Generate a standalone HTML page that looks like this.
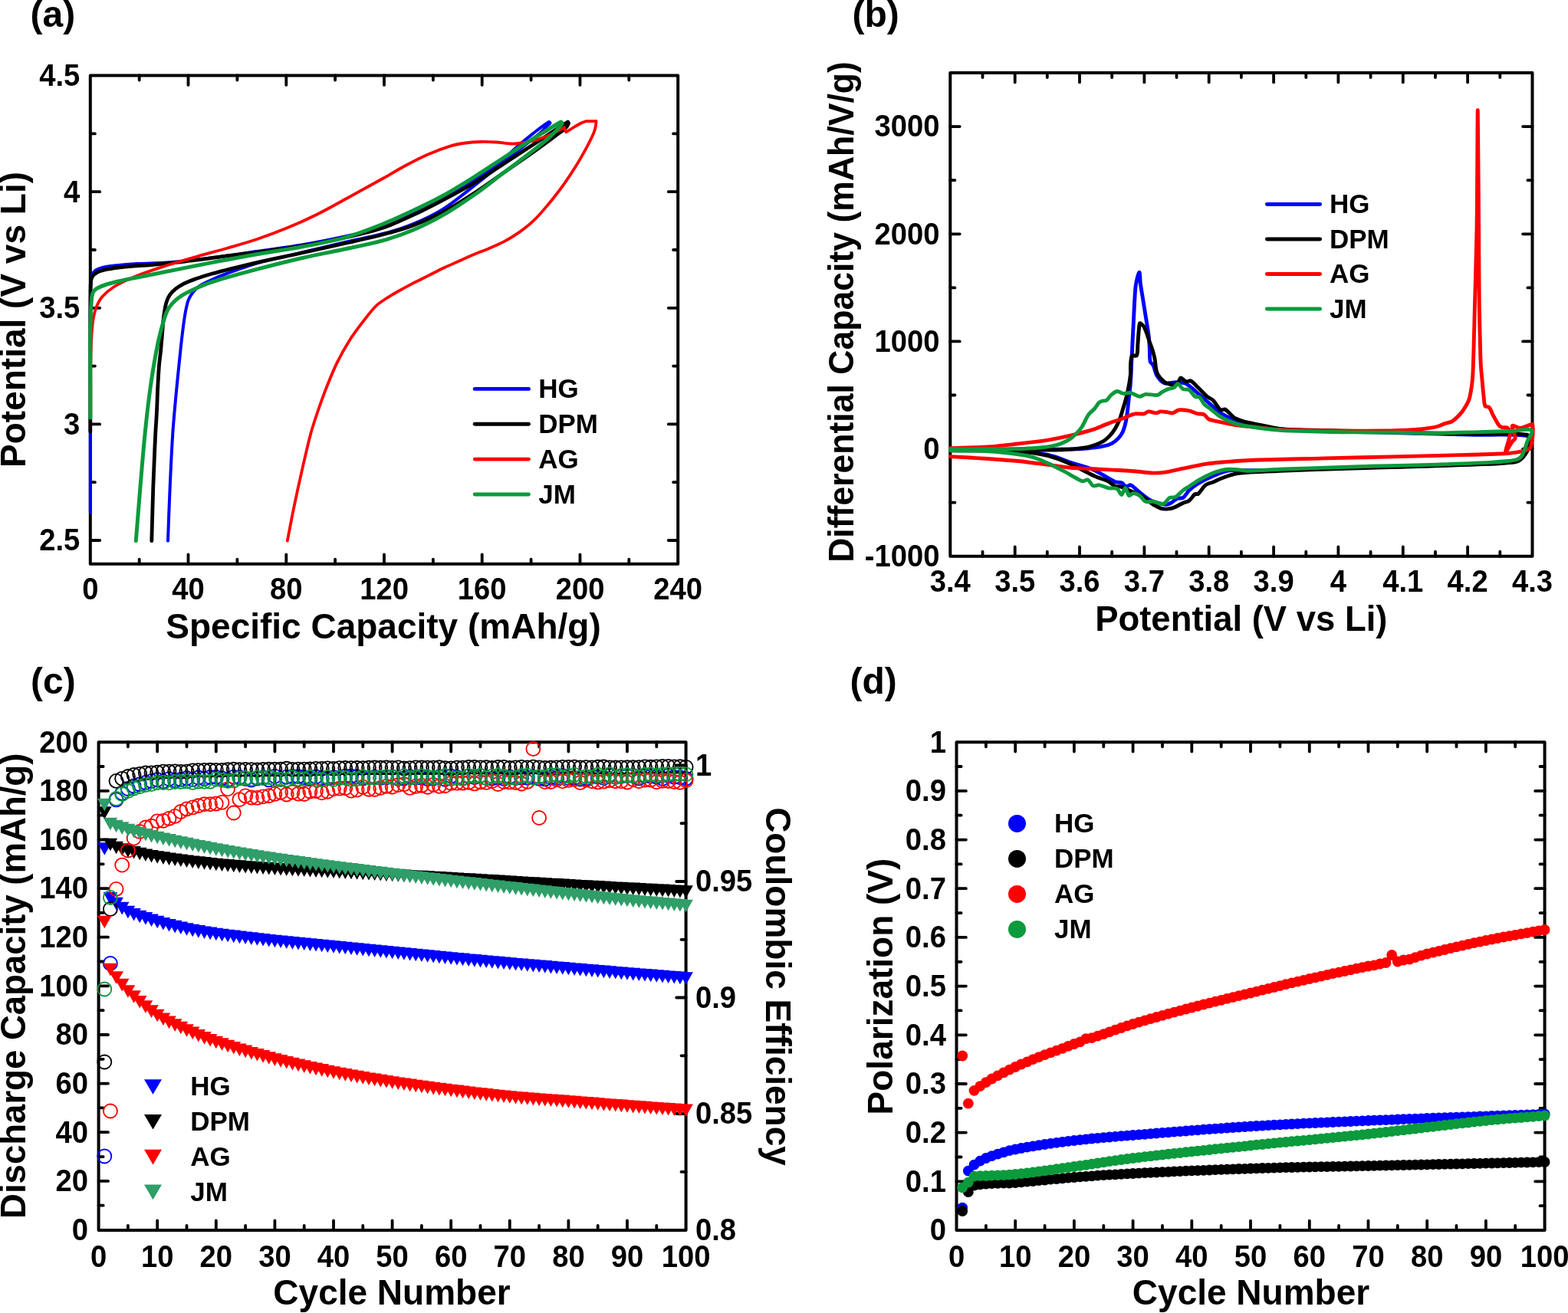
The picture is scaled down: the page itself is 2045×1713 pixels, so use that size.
<!DOCTYPE html>
<html lang="en">
<head>
<meta charset="utf-8">
<title>Electrochemical performance: HG, DPM, AG, JM</title>
<style>
html,body{margin:0;padding:0;background:#fff;}
body{width:2045px;height:1713px;overflow:hidden;}
svg{display:block;font-family:'Liberation Sans', sans-serif;font-weight:bold;fill:#000;}
</style>
</head>
<body>
<svg width="2045" height="1713" viewBox="0 0 2045 1713">
<rect width="2045" height="1713" fill="#fff"/>
<g id="panel-a">
<text x="39.5" y="34.7" font-size="48" text-anchor="start">(a)</text>
<rect x="117.8" y="98.5" width="766.4" height="637.2" fill="none" stroke="#000" stroke-width="4.0" stroke-linejoin="round"/>
<path d="M181.7 735.7v-6.1M181.7 98.5v6.1M245.5 735.7v-12.4M245.5 98.5v12.4M309.4 735.7v-6.1M309.4 98.5v6.1M373.3 735.7v-12.4M373.3 98.5v12.4M437.1 735.7v-6.1M437.1 98.5v6.1M501 735.7v-12.4M501 98.5v12.4M564.9 735.7v-6.1M564.9 98.5v6.1M628.7 735.7v-12.4M628.7 98.5v12.4M692.6 735.7v-6.1M692.6 98.5v6.1M756.5 735.7v-12.4M756.5 98.5v12.4M820.3 735.7v-6.1M820.3 98.5v6.1M117.8 705h12.4M884.2 705h-12.4M117.8 629.2h6.1M884.2 629.2h-6.1M117.8 553.4h12.4M884.2 553.4h-12.4M117.8 477.6h6.1M884.2 477.6h-6.1M117.8 401.8h12.4M884.2 401.8h-12.4M117.8 326h6.1M884.2 326h-6.1M117.8 250.2h12.4M884.2 250.2h-12.4M117.8 174.4h6.1M884.2 174.4h-6.1" fill="none" stroke="#000" stroke-width="3.8" stroke-linecap="round"/>
<path d="M117.8 668.4C117.8 645.6 117.8 618.5 117.8 600C117.8 566.7 117.8 533.3 117.8 500C117.8 476.3 117.8 446.7 117.8 420C117.8 412.9 117.8 396.7 118 385C118.1 381.3 118.3 373.6 118.8 368C119 365.5 119.4 361.1 120.5 358C121 356.6 122.5 354.3 124 353C125.4 351.8 127.8 350.9 129.3 350.4C132.1 349.4 135.3 348.5 138 348C141.6 347.3 146.9 346.7 148.9 346.5C158.6 345.5 169.7 344.5 178 344C191 343.3 204.1 343.5 217 342.6C230.2 341.7 243.4 340.2 256.5 338.7C269.5 337.2 282.6 335.6 295.6 333.8C308.7 332 324.3 329.5 334.7 328C354.3 325.1 374 322.8 393.4 319.5C413 316.2 432.6 312.3 452 308C466.6 304.8 484.4 301.2 500 296C512.4 291.9 526.3 284.9 539 279C552.2 272.8 565.6 266.3 578 259.5C591.4 252.2 605 244.2 617.4 236C630.8 227.1 643.8 217.4 656.5 207.5C661.3 203.7 669.4 195.7 676 190C682.3 184.5 688.9 179 695.6 173.8C702.2 168.7 709.3 163.1 716 159C716.1 158.9 717.7 160.2 717.5 160.5C716.5 162.3 713.6 164.3 712 166C709.8 168.3 706.7 171.7 705.4 172.8C699.1 178.2 691 184.3 685.8 188.5C676 196.3 664.9 205.3 656.5 212C643.5 222.4 630.6 233 617.4 243.2C604.5 253.1 591.9 264 578 272.6C566.4 279.8 552.4 286.5 539 292C526.7 297.1 512 301.6 500 304.8C484.2 309.1 466.4 312.2 452 315.5C432.4 320 412.9 324.8 393.4 329.5C373.8 334.2 354 338.1 334.7 343.5C323.9 346.5 308.5 352.3 295.6 357C291.1 358.6 282.4 362.1 276 365C271.9 366.8 266.4 369.3 262 372C259.7 373.4 256.4 376.1 254 378.5C252.1 380.5 250.3 383.1 248.7 385.6C247.6 387.4 246.3 389.9 245.5 392C244.5 394.6 243.8 397.8 243.3 400C242.4 404 241.5 408.8 241 412C240 418 239.1 425.1 238.5 430C237.4 438.7 236.2 449.1 235.5 456C234.1 469 232.8 482 231.5 495C230.4 506 229.2 518.6 228.2 530C227.1 542.2 225.7 558.1 225.2 566.7C223.8 589.5 222.7 612.6 221.7 635C220.6 658.5 219.9 682.1 219 705.6" fill="none" stroke="#0000ff" stroke-width="4.0" stroke-linecap="round" stroke-linejoin="round"/>
<path d="M117.8 563C117.8 542 117.8 518.5 117.8 500C117.8 473.3 117.8 446.7 117.8 420C117.8 414.5 117.9 400 118 390C118.1 382.9 117.8 373.9 118.6 366C118.7 365.1 119.8 361.7 121 360C122 358.5 123.9 357.3 125.4 356.3C127.1 355.2 129.3 354.1 131 353.5C133.6 352.6 137.4 351.7 139 351.4C145.5 350.2 154.3 348.9 158.7 348.5C171.7 347.2 184.8 346.6 197.8 345.5C210.9 344.3 226.6 342.8 237 341.6C256.6 339.3 281 335.7 295.6 333.8C328.2 329.5 360.9 326 393.4 321C408.2 318.7 432.6 313.9 452 309.5C466.6 306.2 484.4 302.2 500 297C512.3 292.9 526.4 286.3 539 280.4C552.2 274.3 565.3 267.5 578 260.8C591.2 253.9 604.8 246.8 617.4 239.3C630.7 231.3 643.5 222.4 656.5 213.9C669.5 205.4 682.6 197 695.6 188.5C699.9 185.7 709.4 179.4 715 175.7C723.5 170.1 732.4 163.6 740.6 159C740.7 159 741.6 160.7 741.5 161C740.7 163 738.7 166 737.6 167C733.8 170.6 727.6 174.8 725 176.7C715.3 183.9 704.2 192.1 695.6 198.2C682.6 207.4 669.5 216.5 656.5 225.6C643.4 234.8 630.4 244.3 617 253C604.6 261 591.4 269.5 578 276.5C565.8 282.9 552.3 289 539 294C526.6 298.7 511.9 302.7 500 305.8C484.1 310 466.4 313.7 452 317C432.5 321.4 412.9 325.7 393.4 330C373.8 334.3 354.1 338.1 334.7 342.6C315.1 347.2 295.4 351.9 276 357.3C269.3 359.2 256.3 363.3 246.7 367C243.5 368.2 237.3 371.3 233 374C230.7 375.5 227.5 378.1 225 380.5C223.8 381.7 222 384 221 385.6C219.6 387.9 218.4 390.5 217.5 393C216.5 395.7 215.7 399.4 215.4 401.3C214.4 406.8 213.6 412.7 213 418C212.3 424.1 212 430.9 211.5 436.5C210.9 444 210.2 451.5 209.5 459C209 463.7 207.9 471.8 207.6 475.6C206.7 486.4 206.2 497.2 205.6 508C205.2 515.8 205 526.5 204.6 534.3C204.1 545.1 203 559.7 202.7 566.7C201.6 589.5 200.6 612.6 199.8 635C199 658.5 198.5 682.1 197.8 705.6" fill="none" stroke="#000000" stroke-width="4.8" stroke-linecap="round" stroke-linejoin="round"/>
<path d="M117.8 540C117.8 526.7 117.7 513.3 117.8 500C117.8 491.4 117.9 479.4 118.2 470C118.5 458.8 118.9 447.7 119.6 436.5C119.9 431.7 120.4 423.4 121.5 417C122.3 412.2 123.5 406.3 125.4 401.3C127.3 396.5 130.1 391 133 387.6C137.5 382.4 144.3 376.9 149 374C158.1 368.4 169.3 363.5 178 360C190.7 354.9 203.9 350.7 217 346.5C230.1 342.3 243.3 338.6 256.5 334.8C269.4 331.1 282.6 327.7 295.6 324C308.7 320.2 322 316.6 334.7 312.3C347.9 307.8 361.2 302.9 374 297.6C387.2 292.2 400.4 286.2 413 280C426.2 273.5 440.4 265.3 452 259C468 250.2 484 241.4 500 232.5C507.5 228.3 519.4 221.1 529.3 215.8C538.8 210.7 548.7 205.5 558.7 201.2C568 197.2 578.1 193.4 588 190.4C593 188.9 601 187.4 607.6 186.5C613.9 185.6 620.6 185.2 627 185C633.6 184.8 640.1 185.1 646.7 185.5C653.1 185.9 659.6 187.2 666 187.5C668.3 187.6 673.8 187.3 676 187C682.6 186.1 689.3 185.3 695.6 183.6C702.2 181.9 708.6 179.3 715 176.7C718.7 175.2 723.7 172.6 728 170.5C730 169.5 733.1 167.8 735.7 166.5" fill="none" stroke="#ff0000" stroke-width="3.8" stroke-linecap="round" stroke-linejoin="round"/>
<path d="M735.7 166.5L738.2 172.3L750 165L758 160.5L764 158.2L777.5 158.2" fill="none" stroke="#ff0000" stroke-width="3.8" stroke-linecap="round" stroke-linejoin="round"/>
<path d="M777.5 158.2C777.3 160.5 777.2 163.2 776.8 165C776.1 168.3 774.7 172.8 773.8 174.8C770.9 181.4 767.1 188.6 764 194.3C759.7 202.2 755.1 210.3 750.4 217.8C745.4 225.8 739.9 234.2 734.7 241.3C728.4 250 721.9 258.5 715 266.7C709.1 273.7 702.6 281.6 695.6 288.2C690 293.6 682.8 299.1 676 303.9C670.1 308 663.2 312.1 656.5 315.6C650.4 318.8 643.6 321.6 637 324.4C630.6 327.1 623.8 329.5 617.4 332.2C610.8 335 604.3 338.1 597.8 341C591.3 343.9 584.6 346.7 578.2 349.8C571.6 352.9 565.2 356.4 558.7 359.6C552.1 362.9 545.3 366.1 539 369.4C532.1 373 525.3 376.7 518.5 380.5C514.1 383 508.4 386.3 503.5 389.5C499.2 392.3 493.3 396.2 490.5 399C484.1 405.5 478.2 413.4 473 420.2C466.7 428.4 460.4 436.8 455 445.4C449.3 454.4 444.1 464 439.5 473.4C434.6 483.4 430.3 494.2 426.3 504.2C421.9 515.3 417.9 526.7 414 538C411.1 546.6 406.9 559.4 405 566.7C400.7 582.9 397.1 599.3 393.4 615.6C390.1 629.9 386.7 645.6 383.6 660.6C380.5 675.5 377.7 690.6 374.8 705.6" fill="none" stroke="#ff0000" stroke-width="3.8" stroke-linecap="round" stroke-linejoin="round"/>
<path d="M117.8 545C117.8 530 117.8 512.9 117.8 500C117.8 480 117.7 460 117.8 440C117.8 433.3 118 420 118.3 410C118.4 405.5 118.8 398 119.3 392C119.4 390.2 119.7 386.4 120.5 383.7C120.9 382.4 121.9 380.3 123 379C124.2 377.7 126.4 376.3 127.4 375.8C131.1 373.9 136.6 371.7 139 371C148.7 368.2 158.6 366.1 168.5 364C178.2 361.9 189.4 359.9 197.8 358.2C210.9 355.6 223.9 353 237 350.4C250 347.8 265.6 344.6 276 342.6C295.5 338.9 315.1 335.2 334.7 331.8C354.2 328.4 374 325.7 393.4 322C413 318.2 432.8 314.7 452 309.3C467.1 305.1 484.2 298.3 500 292C512.1 287.2 526.3 280.5 539 274.5C552.2 268.3 565.7 261.9 578.2 255C591.5 247.7 604.6 239.5 617.4 231.5C630.6 223.2 643.5 214.5 656.5 206C669.5 197.5 682.5 188.9 695.6 180.6C699.8 178 708.5 172.9 715 169C720.2 165.9 726.4 161.4 731.8 159C732 158.9 733.1 160.8 733 161C731.1 164.4 727.7 167.9 725 170.9C721.9 174.3 717.5 178.4 715 180.6C708.7 186 700.1 192.9 695.6 196.3C682.7 206.2 669.5 215.8 656.5 225.6C643.5 235.4 630.8 245.7 617.4 255C604.9 263.7 591.7 272.7 578.2 280.4C565.9 287.4 552.4 294.3 539 300C526.7 305.2 512.1 310.2 500 313.6C484.2 318 466.5 321.4 452 324.5C432.5 328.7 412.7 332.3 393.4 336.7C373.7 341.2 354.1 346.2 334.7 351.4C315.1 356.6 295.4 361.9 276 368C272.6 369.1 262.8 373 256.5 375.8C249.9 378.8 243.1 381.8 237 385.6C233.4 387.8 228.6 391.7 225.2 395.4C222.2 398.7 218.6 404.1 217.4 407C214 415.1 211.8 424 209.5 432.6C207.2 441.3 204.8 452.7 203.7 459C200.7 475.3 197.8 493 195.8 508C193.1 527.5 190.8 548.6 189 566.7C186.7 589.4 184.9 612.6 183 635C181 658.5 179.2 682.1 177.3 705.6" fill="none" stroke="#0b9a3c" stroke-width="5.0" stroke-linecap="round" stroke-linejoin="round"/>
<text font-size="39" text-anchor="middle" transform="translate(117.8 782.4) scale(0.98 1.035)">0</text>
<text font-size="39" text-anchor="middle" transform="translate(245.5 782.4) scale(0.98 1.035)">40</text>
<text font-size="39" text-anchor="middle" transform="translate(373.3 782.4) scale(0.98 1.035)">80</text>
<text font-size="39" text-anchor="middle" transform="translate(501 782.4) scale(0.98 1.035)">120</text>
<text font-size="39" text-anchor="middle" transform="translate(628.7 782.4) scale(0.98 1.035)">160</text>
<text font-size="39" text-anchor="middle" transform="translate(756.5 782.4) scale(0.98 1.035)">200</text>
<text font-size="39" text-anchor="middle" transform="translate(884.2 782.4) scale(0.98 1.035)">240</text>
<text font-size="39" text-anchor="end" transform="translate(104.3 111.9) scale(0.98 1.035)">4.5</text>
<text font-size="39" text-anchor="end" transform="translate(104.3 263.5) scale(0.98 1.035)">4</text>
<text font-size="39" text-anchor="end" transform="translate(104.3 415.1) scale(0.98 1.035)">3.5</text>
<text font-size="39" text-anchor="end" transform="translate(104.3 566.7) scale(0.98 1.035)">3</text>
<text font-size="39" text-anchor="end" transform="translate(104.3 718.3) scale(0.98 1.035)">2.5</text>
<text x="500" y="832.9" font-size="46" text-anchor="middle">Specific Capacity (mAh/g)</text>
<text x="33.4" y="417" font-size="46" text-anchor="middle" transform="rotate(-90 33.4 417)">Potential (V vs Li)</text>
<path d="M619.2 507.4H689.5" stroke="#0000ff" stroke-width="4.9" stroke-linecap="round" fill="none"/>
<text x="702.2" y="519.2" font-size="35" text-anchor="start">HG</text>
<path d="M619.2 553.3H689.5" stroke="#000000" stroke-width="4.9" stroke-linecap="round" fill="none"/>
<text x="702.2" y="565.1" font-size="35" text-anchor="start">DPM</text>
<path d="M619.2 599.1H689.5" stroke="#ff0000" stroke-width="4.9" stroke-linecap="round" fill="none"/>
<text x="702.2" y="610.9" font-size="35" text-anchor="start">AG</text>
<path d="M619.2 645H689.5" stroke="#0b9a3c" stroke-width="4.9" stroke-linecap="round" fill="none"/>
<text x="702.2" y="656.8" font-size="35" text-anchor="start">JM</text>
</g>
<g id="panel-b">
<text x="1111.5" y="34.7" font-size="48" text-anchor="start">(b)</text>
<rect x="1239.3" y="95" width="759.2" height="630.8" fill="none" stroke="#000" stroke-width="4.0" stroke-linejoin="round"/>
<path d="M1281.5 725.8v-6.1M1281.5 95v6.1M1323.7 725.8v-12.4M1323.7 95v12.4M1365.8 725.8v-6.1M1365.8 95v6.1M1408 725.8v-12.4M1408 95v12.4M1450.2 725.8v-6.1M1450.2 95v6.1M1492.4 725.8v-12.4M1492.4 95v12.4M1534.5 725.8v-6.1M1534.5 95v6.1M1576.7 725.8v-12.4M1576.7 95v12.4M1618.9 725.8v-6.1M1618.9 95v6.1M1661.1 725.8v-12.4M1661.1 95v12.4M1703.3 725.8v-6.1M1703.3 95v6.1M1745.4 725.8v-12.4M1745.4 95v12.4M1787.6 725.8v-6.1M1787.6 95v6.1M1829.8 725.8v-12.4M1829.8 95v12.4M1872 725.8v-6.1M1872 95v6.1M1914.1 725.8v-12.4M1914.1 95v12.4M1956.3 725.8v-6.1M1956.3 95v6.1M1239.3 655.7h6.1M1998.5 655.7h-6.1M1239.3 585.6h12.4M1998.5 585.6h-12.4M1239.3 515.5h6.1M1998.5 515.5h-6.1M1239.3 445.4h12.4M1998.5 445.4h-12.4M1239.3 375.4h6.1M1998.5 375.4h-6.1M1239.3 305.3h12.4M1998.5 305.3h-12.4M1239.3 235.2h6.1M1998.5 235.2h-6.1M1239.3 165.1h12.4M1998.5 165.1h-12.4" fill="none" stroke="#000" stroke-width="3.8" stroke-linecap="round"/>
<path d="M1239.4 586.8C1294.9 586.5 1350.5 586.9 1406 585.8C1409 585.8 1425.7 584.6 1435.4 582.9C1439.2 582.2 1446.5 580.7 1451 578C1455.6 575.2 1460.1 570.7 1462.8 566.3C1465.9 561.1 1467.7 553.1 1468.6 548.7C1470.7 538.4 1471.3 527.8 1472.5 517.4C1473 513.2 1474.2 504.2 1474.4 500C1475.2 489.7 1475.4 479.3 1475.9 469C1476.2 463.8 1476.7 454.4 1476.9 449.1C1477.4 439.2 1477.9 429.3 1478.4 419.3C1478.9 409.4 1479.3 399.5 1479.9 389.6C1480.2 385.1 1480.4 377.6 1481.4 371.7C1482.3 366.3 1484.8 355.7 1485.9 355.3C1486.8 355 1486.9 366.2 1487.3 369.7C1488.5 378 1490 386.2 1491.3 394.5C1492.6 402.8 1494 411.1 1495.3 419.3C1496.2 425.2 1497.5 432.5 1498.3 439.2C1498.7 443.4 1499 449.6 1499.3 454.1C1499.6 460 1499 466.3 1500.2 471.9C1500.5 473 1503.6 475.6 1504.2 476.9C1506 480.6 1506.3 485.1 1508.2 488.8C1509.5 491.4 1511.9 494.4 1514.1 496.7C1515.2 497.8 1517.3 499.4 1519.1 500C1520.3 500.4 1522.6 499.8 1523.4 499.8C1527.3 499.5 1531.2 498.6 1535.1 498.8C1539.1 498.9 1544.3 499.3 1546.9 500.7C1552.6 503.8 1557.5 509.2 1562.5 513.4C1567.8 517.9 1572.9 522.6 1578.2 527.1C1582.4 530.8 1587.3 535.9 1591.9 538.9C1597.9 542.8 1604.7 546.1 1611.4 548.7C1617 550.8 1625.9 552.7 1630 553.5C1643 556.1 1658.5 559.1 1669.1 560C1688.6 561.7 1713.1 561.5 1727.8 562C1760.4 563 1793 564 1825.6 564.9C1858.2 565.8 1890.8 566.5 1923.4 567.2C1942.2 567.7 1970.4 566 1991.9 568.6C1992.4 568.7 1995.6 574.2 1995.4 576C1994.9 581.2 1992.4 587.1 1989.5 591.7C1987.4 595.1 1983.6 599.1 1979.7 601.1C1975.9 603 1969.7 603.1 1966.4 603.4C1958.6 604.3 1946.6 604.8 1943 605C1916.9 606.1 1890.8 606.9 1864.7 607.7C1838.6 608.5 1812.6 609 1786.5 609.7C1760.4 610.4 1734.3 611.2 1708.2 612C1699.5 612.3 1682.2 612.9 1669.1 613.2C1656.1 613.5 1643 613.4 1630 613.6C1622.1 613.7 1610.9 612.7 1601.6 614.2C1595.9 615.1 1588.3 618.4 1582.1 621C1575.4 623.9 1568.8 627.1 1562.5 630.8C1559.1 632.8 1554.3 636.3 1550.8 639.6C1548 642.3 1546.2 647.2 1543 649.4C1541.3 650.5 1537.3 649.4 1535.1 650.4C1532.2 651.6 1530.1 654.6 1527.3 656.2C1525.9 657 1523.3 658.1 1521.4 658.2C1518.9 658.4 1515.4 657.7 1513.6 657.2C1509 655.9 1503.5 654.4 1499.9 652.3C1494.3 649.1 1489.4 644.6 1484.3 640.6C1481.7 638.6 1478 634.1 1474.5 632.8C1473.2 632.3 1470.4 635.2 1468.6 634.7C1466.5 634.2 1465 630.8 1462.8 629.8C1460.4 628.8 1455.9 629.3 1454.9 628.9C1444.9 624.3 1435.8 617.2 1425.6 612.8C1416.6 608.9 1406 606.7 1396.3 603.4C1390.9 601.6 1383.3 598.2 1376.7 596.2C1370.4 594.3 1362.5 592.5 1357.1 591.7C1347.4 590.1 1332.7 588.5 1327.8 588.4C1298.4 587.3 1268.9 587.7 1239.4 587.4" fill="none" stroke="#0000ff" stroke-width="4.9" stroke-linecap="round" stroke-linejoin="round"/>
<path d="M1239.4 586.8C1288.4 586.8 1337.5 587.6 1386.5 586.8C1389.8 586.7 1406.1 585.4 1415.8 583.9C1418.9 583.4 1425.1 581.6 1429.5 580C1433.4 578.4 1437.8 576.6 1441.2 574.1C1444.9 571.4 1448.4 567.7 1451 564.3C1454.2 560.1 1456.9 555 1458.9 550.6C1461.3 545 1463.1 538.4 1464.7 533C1466.9 525.9 1469.1 518.5 1470.6 511.5C1472.3 503.8 1473.6 495.9 1474.5 488C1474.7 486.3 1474.3 481.2 1474.4 478.9C1474.8 473.9 1474.5 467.5 1476.4 464C1477 463 1481.9 465 1482.4 464C1484.2 460.4 1483.5 453.4 1483.9 449.1C1484.4 442.5 1484.8 435.9 1485.4 429.3C1485.5 427.9 1485.8 424 1486.4 421.8C1486.4 421.7 1487.3 421.8 1487.3 421.8C1488.7 422.8 1490.7 424.2 1491.3 425.3C1493 428 1494.3 431.6 1495.3 434.2C1496.8 438.1 1497.9 442.2 1499.3 446.1C1500.5 449.6 1502.1 453.4 1503.2 457C1504.4 461 1505.5 465.3 1506.2 469C1507.1 473.9 1506.9 479.1 1508.2 483.8C1508.7 486 1510.5 489.5 1512.2 491.8C1514.1 494.4 1516.6 496.7 1519.1 498.7C1519.9 499.4 1522.2 500.5 1523.4 500.7C1525.9 501.4 1528.8 502.2 1531.2 501.7C1533.4 501.2 1535.5 499.4 1537.1 497.8C1538.3 496.6 1538.7 492.9 1540 492.9C1542 492.9 1544.4 497 1546.9 497.8C1548.4 498.3 1551.6 496.3 1552.7 496.8C1556.3 498.6 1559.7 502.9 1562.5 505.6C1566.5 509.4 1570.1 513.8 1574.3 517.4C1575.9 518.8 1580.5 520.7 1582.1 522.2C1585.8 526 1588.1 532.1 1591.9 535C1592.7 535.6 1596.8 533.5 1597.7 534C1602 536.4 1605.1 541.8 1609.5 544.7C1612.6 546.8 1617.2 548.3 1621.2 549.6C1623.6 550.4 1628.9 551.4 1630 551.6C1643 554.2 1658.4 558.3 1669.1 559.4C1688.5 561.4 1713.1 560.9 1727.8 561.4C1760.4 562.4 1793 563.5 1825.6 564.3C1858.2 565.1 1890.8 565.7 1923.4 566.3C1942.2 566.6 1970.7 564.4 1991.9 567.2C1992.6 567.3 1996 573.7 1995.8 576C1995.4 581.2 1992.8 587 1989.9 591.7C1987.7 595.2 1984 599.5 1980.1 601.5C1976.2 603.5 1969.8 603.5 1966.4 603.8C1958.6 604.6 1946.6 605.2 1943 605.4C1916.9 606.5 1890.8 607.3 1864.7 608.1C1838.6 608.9 1812.6 609.5 1786.5 610.3C1760.4 611.1 1734.3 611.9 1708.2 612.8C1699.5 613.1 1682.2 613.8 1669.1 614.4C1656.1 614.9 1643 615.3 1630 616.1C1626 616.4 1617.5 616.9 1611.4 618.1C1606.4 619.1 1600.9 621.1 1595.8 623C1591.3 624.6 1586.7 626.9 1582.1 628.9C1579.4 630 1574.5 631 1572.3 632.8C1568.4 635.9 1566.2 641.4 1562.5 644.5C1562.1 644.8 1559.1 644.1 1558.6 644.5C1555.7 646.7 1553.8 651 1550.8 653.3C1548.9 654.7 1544.9 655.3 1543 656.2C1539 658 1535.3 660.6 1531.2 662.1C1528.5 663.1 1524.7 663.9 1521.4 664.1C1519.1 664.2 1515.7 663.8 1513.6 663.1C1510.2 661.9 1506.7 660 1503.8 658.2C1500.4 655.9 1497.5 652.8 1494.1 650.4C1491.1 648.3 1487.7 646.2 1484.3 644.5C1481.3 643 1477.2 641.7 1474.5 640.6C1469.9 638.7 1465.5 636.1 1460.8 634.7C1459.7 634.4 1456.1 635.2 1454.9 634.7C1451.4 633.2 1448.1 629.4 1445.2 627.9C1440.2 625.4 1434.6 624.2 1429.5 622C1425 620.1 1419.6 617 1415.8 615.2C1409.3 611.9 1402.9 608.4 1396.3 605.4C1390 602.6 1383.4 599.7 1376.7 597.6C1370.4 595.5 1362.5 593.6 1357.1 592.7C1347.4 590.9 1332.7 589 1327.8 588.8C1298.4 587.5 1268.9 588.1 1239.4 587.8" fill="none" stroke="#000000" stroke-width="4.9" stroke-linecap="round" stroke-linejoin="round"/>
<path d="M1239.4 584.8C1255.8 584.2 1272.3 584 1288.7 582.9C1300.3 582.1 1314.8 580.4 1327.8 579C1340.9 577.5 1353.9 576.1 1366.9 574.1C1375.4 572.7 1386.6 570.5 1396.3 568.2C1406.1 565.9 1416 563.5 1425.6 560.4C1431.1 558.6 1438.6 555 1445.2 552.6C1451.6 550.2 1458.2 548.1 1464.7 545.7C1469.4 544 1475 541 1480.4 539.9C1483.5 539.2 1488.3 540.5 1492.1 539.9C1493.6 539.6 1496.2 537 1498 536.9C1501.1 536.7 1504.5 538.9 1507.8 538.9C1509.3 538.9 1512 537 1513.6 536.9C1516.8 536.7 1520.1 537.5 1523.4 537.9C1524.9 538.1 1527.7 539.2 1529.3 538.9C1532 538.3 1534.8 535.3 1537.1 535C1541.5 534.4 1546.3 535.1 1550.8 535.9C1554.6 536.7 1558.5 538.9 1562.5 539.9C1564.5 540.3 1568.1 539.7 1570.3 540.8C1572.7 542 1574.5 545.9 1576.2 546.7C1580.9 548.9 1587.2 549.6 1591.9 550.6C1598.3 552.1 1604.9 553.5 1611.4 554.5C1617.4 555.4 1626 556.1 1630 556.5C1643 557.8 1658.6 559.8 1669.1 560.4C1688.6 561.4 1711 561.6 1727.8 561.8C1753.9 562.1 1780 562.3 1806 562C1814.7 561.9 1832.1 561.2 1845.2 560.4C1849.5 560.1 1858.2 559.3 1864.7 558.4C1866.9 558.1 1871.4 557.4 1874.5 556.5C1877.8 555.5 1881 553.7 1884.3 552.6C1887.4 551.5 1891.5 551.2 1894.1 549.6C1897.7 547.4 1900.8 544 1903.8 540.8C1905.7 538.8 1908.2 535.5 1909.7 533C1911.9 529.6 1914.2 526 1915.6 522.2C1917.1 518.2 1917.8 513.4 1918.5 509.5C1919.4 504.4 1920.1 498.6 1920.5 493.9C1921 487.4 1921.3 479 1921.4 474.3C1921.9 462.6 1922.1 450.2 1922.4 439.1C1922.8 426.1 1923.2 407.3 1923.4 400C1924.3 366.7 1925.6 326 1926 300C1926.8 247.9 1926.9 143.7 1927.3 143.7C1927.7 143.7 1928.2 247.9 1928.6 300C1928.8 326 1928.9 366.7 1929.3 400C1929.4 407.3 1929.9 426.1 1930.2 439.1C1930.5 450.2 1930.6 462.6 1931.2 474.3C1931.5 480.6 1932.5 490 1933.2 497.8C1933.7 503.7 1934.3 510.9 1935.1 517.4C1935.5 520.7 1935.4 526.8 1937.1 530.1C1937.5 530.9 1941.3 530.3 1942 531.1C1944.2 533.5 1945.4 538.2 1946.9 540.8C1949.4 545.5 1951.7 550.3 1954.7 554.5C1955.1 555.2 1957.4 557.1 1958.6 557.5C1961 558.3 1964.7 557 1966.4 558.4C1968.3 559.9 1969.5 564.8 1969.4 566.3C1968.6 574 1962.9 587.8 1963.5 589.7C1963.9 591 1969.1 580.4 1972.3 576C1972.8 575.3 1976.2 573 1976.2 572.1C1976.2 567 1971.1 558.4 1972.3 555.5C1973 553.8 1978.8 558.4 1982.1 558.4C1985.3 558.4 1988.6 556.5 1991.9 555.5C1993.7 555 1998.6 552.7 1998.7 553.5C1999.9 561.2 1998.5 574.7 1996.2 583.9C1995.9 584.7 1991.6 586.8 1989.9 587.4C1986.1 588.7 1981.6 589.6 1978.2 590.1C1973 590.9 1964.7 591.6 1962.5 591.7C1943 592.6 1920.6 593.2 1903.8 593.6C1877.8 594.4 1848.8 595 1825.6 595.6C1793 596.4 1760.4 597.1 1727.8 597.9C1695.2 598.8 1662.6 599.3 1630 600.5C1625.7 600.6 1610.9 601.7 1601.6 602.4C1591.8 603.3 1581.9 603.9 1572.3 605.4C1562.4 606.9 1552.7 609.3 1543 611.2C1536 612.7 1527.4 615 1519.5 616.1C1515.4 616.7 1508.5 617.2 1503.8 617.1C1497.3 616.9 1489.5 615.6 1484.3 615.2C1474.5 614.4 1464.7 613.8 1454.9 613.2C1445.2 612.6 1435.4 612.3 1425.6 611.8C1415.8 611.3 1406 611.2 1396.3 610.3C1386.4 609.4 1375.3 607.4 1366.9 606.4C1353.9 604.7 1340.9 602.8 1327.8 601.5C1314.8 600.2 1300.2 599.3 1288.7 598.5C1272.3 597.4 1255.8 596.6 1239.4 595.6" fill="none" stroke="#ff0000" stroke-width="4.9" stroke-linecap="round" stroke-linejoin="round"/>
<path d="M1239.4 585.8C1262.3 585.8 1285.3 586 1308.2 585.8C1317.7 585.7 1334.4 585.8 1347.4 584.8C1355.8 584.2 1367.2 583.4 1376.7 580.9C1382.5 579.4 1390.4 576.1 1396.3 572.1C1401.3 568.7 1406.2 563.5 1410 558.4C1413.9 553.1 1415.9 546.3 1419.7 540.8C1421.2 538.7 1425.1 535.8 1427.6 533C1429.6 530.7 1431.2 527.4 1433.4 525.2C1434.1 524.5 1436.2 523.6 1437.3 523.2C1439.2 522.7 1441.9 523.1 1443.2 522.2C1445.6 520.7 1446.8 517.3 1449.1 515.4C1451.4 513.4 1454.2 510.9 1456.9 510.5C1459.4 510.2 1462.2 513.2 1464.7 513.4C1467.9 513.8 1471.7 512 1474.5 512.5C1478.5 513.2 1482.3 517 1486.2 517.4C1488.4 517.6 1492.1 514.6 1494.1 514.4C1499.2 514 1504.8 516.1 1509.7 515.4C1511.2 515.2 1513.8 512.5 1515.6 511.5C1518.1 510 1520.7 508.6 1523.4 507.6C1525.8 506.7 1528.9 506.9 1531.2 505.6C1533.1 504.6 1534.5 500.5 1536.1 500.7C1538.4 501.1 1540.3 506.1 1543 507.6C1545 508.7 1549 507.4 1550.8 508.6C1553.9 510.5 1555.6 515.2 1558.6 517.4C1559.7 518.1 1563.4 517.4 1564.5 518.3C1567 520.4 1568 524.6 1570.3 527.1C1572.5 529.4 1576.3 531.6 1578.2 533C1582.8 536.6 1587.4 541.1 1591.9 543.8C1598 547.4 1604.7 550.3 1611.4 552.6C1617.1 554.4 1625.9 555.9 1630 556.5C1643 558.5 1656 560.3 1669.1 561.4C1682.1 562.4 1697.8 562.5 1708.2 562.7C1727.8 563.2 1747.4 563.7 1766.9 563.9C1786.5 564.2 1806 564 1825.6 564.3C1836 564.4 1851.7 565.3 1864.7 565.3C1877.8 565.3 1890.8 564.6 1903.8 564.3C1916.9 564 1929.9 563.7 1943 563.3C1951.3 563.1 1962.5 562.7 1972.3 562.3C1980.2 562.1 1993.7 558.6 1997.7 561.4C2000.2 563.1 1993.7 571.1 1991.9 576C1990.6 579.4 1989.5 584 1987.9 587.8C1987 590 1985.8 593.4 1984 595.6C1982.7 597.2 1979.8 599 1978.2 599.5C1974.5 600.7 1969.1 601.2 1966.4 601.5C1958.6 602.3 1946.6 603.2 1943 603.4C1916.9 604.7 1890.8 605.5 1864.7 606.4C1838.6 607.2 1812.6 607.6 1786.5 608.3C1760.4 609.1 1734.3 610 1708.2 610.9C1699.5 611.1 1682.2 611.7 1669.1 612.2C1656.1 612.8 1643 614.2 1630 614.2C1622 614.2 1611 611.7 1601.6 612.2C1596.1 612.6 1588.1 614.9 1582.1 617.1C1575.3 619.7 1568.9 623.3 1562.5 626.9C1559.3 628.7 1554.7 632.2 1550.8 634.7C1548.7 636 1545 638.1 1543 639.6C1539.5 642.3 1536.8 646.4 1533.2 648.4C1531.5 649.4 1527.3 648.3 1525.4 649.4C1522.3 651.1 1520.7 656.5 1517.5 657.2C1513.5 658.1 1508.4 654.9 1503.8 654.3C1501.2 653.9 1496.8 655.5 1494.1 654.3C1490.9 652.9 1489.2 648.5 1486.2 646.5C1484.3 645.1 1481 643.5 1478.4 643.5C1476.5 643.5 1473.9 647.3 1472.5 646.5C1470.3 645 1469.3 636.8 1467.7 636.7C1466.1 636.5 1464.6 645.3 1462.8 645.5C1461 645.6 1459.5 639 1456.9 637.7C1453.7 636 1448.9 637.5 1445.2 636.7C1441.2 635.8 1437.4 633.4 1433.4 632.8C1431.4 632.5 1427.7 634.7 1425.6 633.7C1422.8 632.4 1421.5 627.1 1418.8 625.9C1417 625.2 1413.8 628.2 1411.9 627.9C1408.6 627.3 1404.6 624.3 1402.1 623C1396.9 620.1 1391.3 616.7 1386.5 614.2C1380 610.8 1373.6 607.4 1366.9 604.4C1360.6 601.6 1354.1 598.6 1347.4 596.6C1341.2 594.7 1332.2 593.3 1327.8 592.7C1314.8 590.9 1300.3 589.4 1288.7 588.8C1272.3 587.8 1255.8 588.1 1239.4 587.8" fill="none" stroke="#0b9a3c" stroke-width="4.9" stroke-linecap="round" stroke-linejoin="round"/>
<text font-size="39" text-anchor="middle" transform="translate(1239.3 771.6) scale(0.98 1.035)">3.4</text>
<text font-size="39" text-anchor="middle" transform="translate(1323.7 771.6) scale(0.98 1.035)">3.5</text>
<text font-size="39" text-anchor="middle" transform="translate(1408 771.6) scale(0.98 1.035)">3.6</text>
<text font-size="39" text-anchor="middle" transform="translate(1492.4 771.6) scale(0.98 1.035)">3.7</text>
<text font-size="39" text-anchor="middle" transform="translate(1576.7 771.6) scale(0.98 1.035)">3.8</text>
<text font-size="39" text-anchor="middle" transform="translate(1661.1 771.6) scale(0.98 1.035)">3.9</text>
<text font-size="39" text-anchor="middle" transform="translate(1745.4 771.6) scale(0.98 1.035)">4</text>
<text font-size="39" text-anchor="middle" transform="translate(1829.8 771.6) scale(0.98 1.035)">4.1</text>
<text font-size="39" text-anchor="middle" transform="translate(1914.1 771.6) scale(0.98 1.035)">4.2</text>
<text font-size="39" text-anchor="middle" transform="translate(1998.5 771.6) scale(0.98 1.035)">4.3</text>
<text font-size="39" text-anchor="end" transform="translate(1225.5 739.1) scale(0.98 1.035)">-1000</text>
<text font-size="39" text-anchor="end" transform="translate(1225.5 598.9) scale(0.98 1.035)">0</text>
<text font-size="39" text-anchor="end" transform="translate(1225.5 458.7) scale(0.98 1.035)">1000</text>
<text font-size="39" text-anchor="end" transform="translate(1225.5 318.6) scale(0.98 1.035)">2000</text>
<text font-size="39" text-anchor="end" transform="translate(1225.5 178.4) scale(0.98 1.035)">3000</text>
<text font-size="46" text-anchor="middle" transform="translate(1618.8 822.6) scale(0.988 1)">Potential (V vs Li)</text>
<text font-size="46" text-anchor="middle" transform="translate(1113.3 407) rotate(-90) scale(0.969 1)">Differential Capacity (mAh/V/g)</text>
<path d="M1652.4 266.5H1721.6" stroke="#0000ff" stroke-width="4.9" stroke-linecap="round" fill="none"/>
<text x="1734" y="278.3" font-size="35" text-anchor="start">HG</text>
<path d="M1652.4 312H1721.6" stroke="#000000" stroke-width="4.9" stroke-linecap="round" fill="none"/>
<text x="1734" y="323.8" font-size="35" text-anchor="start">DPM</text>
<path d="M1652.4 357.5H1721.6" stroke="#ff0000" stroke-width="4.9" stroke-linecap="round" fill="none"/>
<text x="1734" y="369.3" font-size="35" text-anchor="start">AG</text>
<path d="M1652.4 403H1721.6" stroke="#0b9a3c" stroke-width="4.9" stroke-linecap="round" fill="none"/>
<text x="1734" y="414.8" font-size="35" text-anchor="start">JM</text>
</g>
<g id="panel-c">
<text x="40" y="904.7" font-size="48" text-anchor="start">(c)</text>
<rect x="128.6" y="968.2" width="766" height="636.7" fill="none" stroke="#000" stroke-width="4.0" stroke-linejoin="round"/>
<path d="M166.9 1604.9v-6.1M166.9 968.2v6.1M205.2 1604.9v-12.4M205.2 968.2v12.4M243.5 1604.9v-6.1M243.5 968.2v6.1M281.8 1604.9v-12.4M281.8 968.2v12.4M320.1 1604.9v-6.1M320.1 968.2v6.1M358.4 1604.9v-12.4M358.4 968.2v12.4M396.7 1604.9v-6.1M396.7 968.2v6.1M435 1604.9v-12.4M435 968.2v12.4M473.3 1604.9v-6.1M473.3 968.2v6.1M511.6 1604.9v-12.4M511.6 968.2v12.4M549.9 1604.9v-6.1M549.9 968.2v6.1M588.2 1604.9v-12.4M588.2 968.2v12.4M626.5 1604.9v-6.1M626.5 968.2v6.1M664.8 1604.9v-12.4M664.8 968.2v12.4M703.1 1604.9v-6.1M703.1 968.2v6.1M741.4 1604.9v-12.4M741.4 968.2v12.4M779.7 1604.9v-6.1M779.7 968.2v6.1M818 1604.9v-12.4M818 968.2v12.4M856.3 1604.9v-6.1M856.3 968.2v6.1M128.6 1572.7h6.1M128.6 1540.9h12.4M128.6 1509.1h6.1M128.6 1477.2h12.4M128.6 1445.4h6.1M128.6 1413.6h12.4M128.6 1381.8h6.1M128.6 1350h12.4M128.6 1318.2h6.1M128.6 1286.3h12.4M128.6 1254.5h6.1M128.6 1222.7h12.4M128.6 1190.9h6.1M128.6 1159.1h12.4M128.6 1127.3h6.1M128.6 1095.5h12.4M128.6 1063.6h6.1M128.6 1031.8h12.4M128.6 1000h6.1M894.6 1528.8h-6.1M894.6 1453h-12.4M894.6 1377.3h-6.1M894.6 1301.5h-12.4M894.6 1225.8h-6.1M894.6 1150h-12.4M894.6 1074.2h-6.1M894.6 998.5h-12.4" fill="none" stroke="#000" stroke-width="3.8" stroke-linecap="round"/>
<g>
<path d="M127 1099.2h18.6l-9.3 16.6zM134.6 1164h18.6l-9.3 16.6zM142.3 1170.7h18.6l-9.3 16.6zM149.9 1176.8h18.6l-9.3 16.6zM157.6 1181.7h18.6l-9.3 16.6zM165.3 1184.9h18.6l-9.3 16.6zM172.9 1187.7h18.6l-9.3 16.6zM180.6 1190.1h18.6l-9.3 16.6zM188.2 1192.5h18.6l-9.3 16.6zM195.9 1194.7h18.6l-9.3 16.6zM203.6 1196.9h18.6l-9.3 16.6zM211.2 1198.9h18.6l-9.3 16.6zM218.9 1200.8h18.6l-9.3 16.6zM226.5 1202.5h18.6l-9.3 16.6zM234.2 1204.2h18.6l-9.3 16.6zM241.9 1205.7h18.6l-9.3 16.6zM249.5 1207.1h18.6l-9.3 16.6zM257.2 1208.4h18.6l-9.3 16.6zM264.8 1209.6h18.6l-9.3 16.6zM272.5 1210.7h18.6l-9.3 16.6zM280.2 1211.7h18.6l-9.3 16.6zM287.8 1212.7h18.6l-9.3 16.6zM295.5 1213.6h18.6l-9.3 16.6zM303.1 1214.6h18.6l-9.3 16.6zM310.8 1215.5h18.6l-9.3 16.6zM318.5 1216.3h18.6l-9.3 16.6zM326.1 1217.2h18.6l-9.3 16.6zM333.8 1218h18.6l-9.3 16.6zM341.4 1218.9h18.6l-9.3 16.6zM349.1 1219.7h18.6l-9.3 16.6zM356.8 1220.5h18.6l-9.3 16.6zM364.4 1221.3h18.6l-9.3 16.6zM372.1 1222.1h18.6l-9.3 16.6zM379.7 1222.8h18.6l-9.3 16.6zM387.4 1223.5h18.6l-9.3 16.6zM395.1 1224.3h18.6l-9.3 16.6zM402.7 1225h18.6l-9.3 16.6zM410.4 1225.7h18.6l-9.3 16.6zM418 1226.5h18.6l-9.3 16.6zM425.7 1227.2h18.6l-9.3 16.6zM433.4 1228h18.6l-9.3 16.6zM441 1228.7h18.6l-9.3 16.6zM448.7 1229.5h18.6l-9.3 16.6zM456.3 1230.2h18.6l-9.3 16.6zM464 1231h18.6l-9.3 16.6zM471.7 1231.7h18.6l-9.3 16.6zM479.3 1232.5h18.6l-9.3 16.6zM487 1233.2h18.6l-9.3 16.6zM494.6 1233.9h18.6l-9.3 16.6zM502.3 1234.7h18.6l-9.3 16.6zM510 1235.5h18.6l-9.3 16.6zM517.6 1236.2h18.6l-9.3 16.6zM525.3 1237h18.6l-9.3 16.6zM532.9 1237.7h18.6l-9.3 16.6zM540.6 1238.5h18.6l-9.3 16.6zM548.3 1239.2h18.6l-9.3 16.6zM555.9 1240h18.6l-9.3 16.6zM563.6 1240.7h18.6l-9.3 16.6zM571.2 1241.5h18.6l-9.3 16.6zM578.9 1242.2h18.6l-9.3 16.6zM586.6 1242.9h18.6l-9.3 16.6zM594.2 1243.6h18.6l-9.3 16.6zM601.9 1244.4h18.6l-9.3 16.6zM609.5 1245.1h18.6l-9.3 16.6zM617.2 1245.8h18.6l-9.3 16.6zM624.9 1246.5h18.6l-9.3 16.6zM632.5 1247.2h18.6l-9.3 16.6zM640.2 1247.8h18.6l-9.3 16.6zM647.8 1248.5h18.6l-9.3 16.6zM655.5 1249.2h18.6l-9.3 16.6zM663.2 1249.9h18.6l-9.3 16.6zM670.8 1250.5h18.6l-9.3 16.6zM678.5 1251.2h18.6l-9.3 16.6zM686.1 1251.8h18.6l-9.3 16.6zM693.8 1252.5h18.6l-9.3 16.6zM701.5 1253.1h18.6l-9.3 16.6zM709.1 1253.8h18.6l-9.3 16.6zM716.8 1254.4h18.6l-9.3 16.6zM724.4 1255.1h18.6l-9.3 16.6zM732.1 1255.7h18.6l-9.3 16.6zM739.8 1256.4h18.6l-9.3 16.6zM747.4 1257h18.6l-9.3 16.6zM755.1 1257.7h18.6l-9.3 16.6zM762.7 1258.3h18.6l-9.3 16.6zM770.4 1259h18.6l-9.3 16.6zM778.1 1259.6h18.6l-9.3 16.6zM785.7 1260.3h18.6l-9.3 16.6zM793.4 1260.9h18.6l-9.3 16.6zM801 1261.6h18.6l-9.3 16.6zM808.7 1262.2h18.6l-9.3 16.6zM816.4 1262.8h18.6l-9.3 16.6zM824 1263.4h18.6l-9.3 16.6zM831.7 1264h18.6l-9.3 16.6zM839.3 1264.6h18.6l-9.3 16.6zM847 1265.2h18.6l-9.3 16.6zM854.7 1265.8h18.6l-9.3 16.6zM862.3 1266.4h18.6l-9.3 16.6zM870 1267h18.6l-9.3 16.6zM877.6 1267.6h18.6l-9.3 16.6zM885.3 1268.2h18.6l-9.3 16.6z" fill="#0000ff"/>
<g fill="none" stroke="#0000ff" stroke-width="1.85">
<circle cx="136.3" cy="1508.5" r="9.0"/>
<circle cx="143.9" cy="1257" r="9.0"/>
<circle cx="151.6" cy="1043.4" r="9.0"/>
<circle cx="159.2" cy="1034.8" r="9.0"/>
<circle cx="166.9" cy="1029" r="9.0"/>
<circle cx="174.6" cy="1025.5" r="9.0"/>
<circle cx="182.2" cy="1023.2" r="9.0"/>
<circle cx="189.9" cy="1021" r="9.0"/>
<circle cx="197.5" cy="1019.1" r="9.0"/>
<circle cx="205.2" cy="1017.2" r="9.0"/>
<circle cx="212.9" cy="1019.3" r="9.0"/>
<circle cx="220.5" cy="1016.2" r="9.0"/>
<circle cx="228.2" cy="1018.1" r="9.0"/>
<circle cx="235.8" cy="1017" r="9.0"/>
<circle cx="243.5" cy="1015.2" r="9.0"/>
<circle cx="251.2" cy="1017.1" r="9.0"/>
<circle cx="258.8" cy="1014.5" r="9.0"/>
<circle cx="266.5" cy="1016.1" r="9.0"/>
<circle cx="274.1" cy="1014" r="9.0"/>
<circle cx="281.8" cy="1013.8" r="9.0"/>
<circle cx="289.5" cy="1015.4" r="9.0"/>
<circle cx="297.1" cy="1017.2" r="9.0"/>
<circle cx="304.8" cy="1013.8" r="9.0"/>
<circle cx="312.4" cy="1014.2" r="9.0"/>
<circle cx="320.1" cy="1016" r="9.0"/>
<circle cx="327.8" cy="1017.5" r="9.0"/>
<circle cx="335.4" cy="1015.6" r="9.0"/>
<circle cx="343.1" cy="1014.7" r="9.0"/>
<circle cx="350.7" cy="1017.4" r="9.0"/>
<circle cx="358.4" cy="1012.8" r="9.0"/>
<circle cx="366.1" cy="1016.7" r="9.0"/>
<circle cx="373.7" cy="1013.9" r="9.0"/>
<circle cx="381.4" cy="1013.2" r="9.0"/>
<circle cx="389" cy="1013.1" r="9.0"/>
<circle cx="396.7" cy="1014" r="9.0"/>
<circle cx="404.4" cy="1016.4" r="9.0"/>
<circle cx="412" cy="1013.3" r="9.0"/>
<circle cx="419.7" cy="1015.2" r="9.0"/>
<circle cx="427.3" cy="1015.4" r="9.0"/>
<circle cx="435" cy="1014.1" r="9.0"/>
<circle cx="442.7" cy="1015" r="9.0"/>
<circle cx="450.3" cy="1012.6" r="9.0"/>
<circle cx="458" cy="1012.6" r="9.0"/>
<circle cx="465.6" cy="1013.2" r="9.0"/>
<circle cx="473.3" cy="1015.5" r="9.0"/>
<circle cx="481" cy="1014.3" r="9.0"/>
<circle cx="488.6" cy="1013.7" r="9.0"/>
<circle cx="496.3" cy="1015" r="9.0"/>
<circle cx="503.9" cy="1014.3" r="9.0"/>
<circle cx="511.6" cy="1013.5" r="9.0"/>
<circle cx="519.3" cy="1015.9" r="9.0"/>
<circle cx="526.9" cy="1015.4" r="9.0"/>
<circle cx="534.6" cy="1013.2" r="9.0"/>
<circle cx="542.2" cy="1014.8" r="9.0"/>
<circle cx="549.9" cy="1014.6" r="9.0"/>
<circle cx="557.6" cy="1016.2" r="9.0"/>
<circle cx="565.2" cy="1015.5" r="9.0"/>
<circle cx="572.9" cy="1013.4" r="9.0"/>
<circle cx="580.5" cy="1016.7" r="9.0"/>
<circle cx="588.2" cy="1012.6" r="9.0"/>
<circle cx="595.9" cy="1014" r="9.0"/>
<circle cx="603.5" cy="1015.6" r="9.0"/>
<circle cx="611.2" cy="1012.7" r="9.0"/>
<circle cx="618.8" cy="1014.3" r="9.0"/>
<circle cx="626.5" cy="1012.1" r="9.0"/>
<circle cx="634.2" cy="1015.1" r="9.0"/>
<circle cx="641.8" cy="1015.6" r="9.0"/>
<circle cx="649.5" cy="1014.7" r="9.0"/>
<circle cx="657.1" cy="1016.1" r="9.0"/>
<circle cx="664.8" cy="1013.4" r="9.0"/>
<circle cx="672.5" cy="1015.2" r="9.0"/>
<circle cx="680.1" cy="1014.7" r="9.0"/>
<circle cx="687.8" cy="1014.7" r="9.0"/>
<circle cx="695.4" cy="1014" r="9.0"/>
<circle cx="703.1" cy="1015.9" r="9.0"/>
<circle cx="710.8" cy="1016.4" r="9.0"/>
<circle cx="718.4" cy="1014.1" r="9.0"/>
<circle cx="726.1" cy="1015" r="9.0"/>
<circle cx="733.7" cy="1012.1" r="9.0"/>
<circle cx="741.4" cy="1015.2" r="9.0"/>
<circle cx="749.1" cy="1014.9" r="9.0"/>
<circle cx="756.7" cy="1016.5" r="9.0"/>
<circle cx="764.4" cy="1015.7" r="9.0"/>
<circle cx="772" cy="1013.1" r="9.0"/>
<circle cx="779.7" cy="1013.6" r="9.0"/>
<circle cx="787.4" cy="1014.9" r="9.0"/>
<circle cx="795" cy="1011.8" r="9.0"/>
<circle cx="802.7" cy="1013.9" r="9.0"/>
<circle cx="810.3" cy="1012.5" r="9.0"/>
<circle cx="818" cy="1012.3" r="9.0"/>
<circle cx="825.7" cy="1012" r="9.0"/>
<circle cx="833.3" cy="1015.4" r="9.0"/>
<circle cx="841" cy="1012.3" r="9.0"/>
<circle cx="848.6" cy="1012.8" r="9.0"/>
<circle cx="856.3" cy="1013.5" r="9.0"/>
<circle cx="864" cy="1015.8" r="9.0"/>
<circle cx="871.6" cy="1012" r="9.0"/>
<circle cx="879.3" cy="1013.8" r="9.0"/>
<circle cx="886.9" cy="1014.2" r="9.0"/>
<circle cx="894.6" cy="1015.8" r="9.0"/>
</g>
<path d="M127 1052.2h18.6l-9.3 16.6zM134.6 1093.7h18.6l-9.3 16.6zM142.3 1097.7h18.6l-9.3 16.6zM149.9 1100.2h18.6l-9.3 16.6zM157.6 1102.2h18.6l-9.3 16.6zM165.3 1104h18.6l-9.3 16.6zM172.9 1105.7h18.6l-9.3 16.6zM180.6 1107.4h18.6l-9.3 16.6zM188.2 1108.9h18.6l-9.3 16.6zM195.9 1110.2h18.6l-9.3 16.6zM203.6 1111.3h18.6l-9.3 16.6zM211.2 1112.4h18.6l-9.3 16.6zM218.9 1113.5h18.6l-9.3 16.6zM226.5 1114.5h18.6l-9.3 16.6zM234.2 1115.5h18.6l-9.3 16.6zM241.9 1116.4h18.6l-9.3 16.6zM249.5 1117.3h18.6l-9.3 16.6zM257.2 1118.1h18.6l-9.3 16.6zM264.8 1118.9h18.6l-9.3 16.6zM272.5 1119.7h18.6l-9.3 16.6zM280.2 1120.4h18.6l-9.3 16.6zM287.8 1121.1h18.6l-9.3 16.6zM295.5 1121.7h18.6l-9.3 16.6zM303.1 1122.3h18.6l-9.3 16.6zM310.8 1122.9h18.6l-9.3 16.6zM318.5 1123.4h18.6l-9.3 16.6zM326.1 1123.9h18.6l-9.3 16.6zM333.8 1124.4h18.6l-9.3 16.6zM341.4 1124.9h18.6l-9.3 16.6zM349.1 1125.4h18.6l-9.3 16.6zM356.8 1125.9h18.6l-9.3 16.6zM364.4 1126.3h18.6l-9.3 16.6zM372.1 1126.7h18.6l-9.3 16.6zM379.7 1127.2h18.6l-9.3 16.6zM387.4 1127.5h18.6l-9.3 16.6zM395.1 1127.9h18.6l-9.3 16.6zM402.7 1128.3h18.6l-9.3 16.6zM410.4 1128.7h18.6l-9.3 16.6zM418 1129.1h18.6l-9.3 16.6zM425.7 1129.5h18.6l-9.3 16.6zM433.4 1129.9h18.6l-9.3 16.6zM441 1130.3h18.6l-9.3 16.6zM448.7 1130.7h18.6l-9.3 16.6zM456.3 1131.2h18.6l-9.3 16.6zM464 1131.6h18.6l-9.3 16.6zM471.7 1132h18.6l-9.3 16.6zM479.3 1132.4h18.6l-9.3 16.6zM487 1132.9h18.6l-9.3 16.6zM494.6 1133.3h18.6l-9.3 16.6zM502.3 1133.7h18.6l-9.3 16.6zM510 1134.1h18.6l-9.3 16.6zM517.6 1134.6h18.6l-9.3 16.6zM525.3 1135h18.6l-9.3 16.6zM532.9 1135.4h18.6l-9.3 16.6zM540.6 1135.8h18.6l-9.3 16.6zM548.3 1136.3h18.6l-9.3 16.6zM555.9 1136.7h18.6l-9.3 16.6zM563.6 1137.1h18.6l-9.3 16.6zM571.2 1137.6h18.6l-9.3 16.6zM578.9 1138h18.6l-9.3 16.6zM586.6 1138.4h18.6l-9.3 16.6zM594.2 1138.9h18.6l-9.3 16.6zM601.9 1139.3h18.6l-9.3 16.6zM609.5 1139.8h18.6l-9.3 16.6zM617.2 1140.2h18.6l-9.3 16.6zM624.9 1140.7h18.6l-9.3 16.6zM632.5 1141.1h18.6l-9.3 16.6zM640.2 1141.6h18.6l-9.3 16.6zM647.8 1142h18.6l-9.3 16.6zM655.5 1142.5h18.6l-9.3 16.6zM663.2 1143h18.6l-9.3 16.6zM670.8 1143.4h18.6l-9.3 16.6zM678.5 1143.9h18.6l-9.3 16.6zM686.1 1144.3h18.6l-9.3 16.6zM693.8 1144.8h18.6l-9.3 16.6zM701.5 1145.2h18.6l-9.3 16.6zM709.1 1145.7h18.6l-9.3 16.6zM716.8 1146.1h18.6l-9.3 16.6zM724.4 1146.6h18.6l-9.3 16.6zM732.1 1147h18.6l-9.3 16.6zM739.8 1147.4h18.6l-9.3 16.6zM747.4 1147.9h18.6l-9.3 16.6zM755.1 1148.3h18.6l-9.3 16.6zM762.7 1148.7h18.6l-9.3 16.6zM770.4 1149.1h18.6l-9.3 16.6zM778.1 1149.5h18.6l-9.3 16.6zM785.7 1150h18.6l-9.3 16.6zM793.4 1150.4h18.6l-9.3 16.6zM801 1150.8h18.6l-9.3 16.6zM808.7 1151.2h18.6l-9.3 16.6zM816.4 1151.6h18.6l-9.3 16.6zM824 1152h18.6l-9.3 16.6zM831.7 1152.4h18.6l-9.3 16.6zM839.3 1152.8h18.6l-9.3 16.6zM847 1153.2h18.6l-9.3 16.6zM854.7 1153.6h18.6l-9.3 16.6zM862.3 1154h18.6l-9.3 16.6zM870 1154.4h18.6l-9.3 16.6zM877.6 1154.8h18.6l-9.3 16.6zM885.3 1155.2h18.6l-9.3 16.6z" fill="#000000"/>
<g fill="none" stroke="#000000" stroke-width="1.85">
<circle cx="136.3" cy="1385.5" r="9.0"/>
<circle cx="143.9" cy="1186" r="9.0"/>
<circle cx="151.6" cy="1018.9" r="9.0"/>
<circle cx="159.2" cy="1015.8" r="9.0"/>
<circle cx="166.9" cy="1013" r="9.0"/>
<circle cx="174.6" cy="1011" r="9.0"/>
<circle cx="182.2" cy="1009.8" r="9.0"/>
<circle cx="189.9" cy="1008.5" r="9.0"/>
<circle cx="197.5" cy="1008.3" r="9.0"/>
<circle cx="205.2" cy="1007.7" r="9.0"/>
<circle cx="212.9" cy="1006.6" r="9.0"/>
<circle cx="220.5" cy="1006.6" r="9.0"/>
<circle cx="228.2" cy="1006.3" r="9.0"/>
<circle cx="235.8" cy="1006.8" r="9.0"/>
<circle cx="243.5" cy="1006.6" r="9.0"/>
<circle cx="251.2" cy="1005.3" r="9.0"/>
<circle cx="258.8" cy="1005.1" r="9.0"/>
<circle cx="266.5" cy="1004.9" r="9.0"/>
<circle cx="274.1" cy="1004.7" r="9.0"/>
<circle cx="281.8" cy="1004.8" r="9.0"/>
<circle cx="289.5" cy="1004.8" r="9.0"/>
<circle cx="297.1" cy="1004.2" r="9.0"/>
<circle cx="304.8" cy="1003.7" r="9.0"/>
<circle cx="312.4" cy="1004.2" r="9.0"/>
<circle cx="320.1" cy="1004" r="9.0"/>
<circle cx="327.8" cy="1004.1" r="9.0"/>
<circle cx="335.4" cy="1004.5" r="9.0"/>
<circle cx="343.1" cy="1004" r="9.0"/>
<circle cx="350.7" cy="1003.7" r="9.0"/>
<circle cx="358.4" cy="1003.7" r="9.0"/>
<circle cx="366.1" cy="1003.7" r="9.0"/>
<circle cx="373.7" cy="1002.7" r="9.0"/>
<circle cx="381.4" cy="1003.8" r="9.0"/>
<circle cx="389" cy="1003.6" r="9.0"/>
<circle cx="396.7" cy="1003.6" r="9.0"/>
<circle cx="404.4" cy="1003.5" r="9.0"/>
<circle cx="412" cy="1002.8" r="9.0"/>
<circle cx="419.7" cy="1002.8" r="9.0"/>
<circle cx="427.3" cy="1002.3" r="9.0"/>
<circle cx="435" cy="1002.9" r="9.0"/>
<circle cx="442.7" cy="1002.1" r="9.0"/>
<circle cx="450.3" cy="1002" r="9.0"/>
<circle cx="458" cy="1002.1" r="9.0"/>
<circle cx="465.6" cy="1002" r="9.0"/>
<circle cx="473.3" cy="1002.2" r="9.0"/>
<circle cx="481" cy="1001.7" r="9.0"/>
<circle cx="488.6" cy="1001.5" r="9.0"/>
<circle cx="496.3" cy="1001.7" r="9.0"/>
<circle cx="503.9" cy="1001.5" r="9.0"/>
<circle cx="511.6" cy="1001.8" r="9.0"/>
<circle cx="519.3" cy="1001.3" r="9.0"/>
<circle cx="526.9" cy="1002.5" r="9.0"/>
<circle cx="534.6" cy="1002.1" r="9.0"/>
<circle cx="542.2" cy="1001.4" r="9.0"/>
<circle cx="549.9" cy="1001.5" r="9.0"/>
<circle cx="557.6" cy="1001.6" r="9.0"/>
<circle cx="565.2" cy="1001.6" r="9.0"/>
<circle cx="572.9" cy="1001.2" r="9.0"/>
<circle cx="580.5" cy="1002.2" r="9.0"/>
<circle cx="588.2" cy="1002.4" r="9.0"/>
<circle cx="595.9" cy="1001.6" r="9.0"/>
<circle cx="603.5" cy="1001.6" r="9.0"/>
<circle cx="611.2" cy="1001" r="9.0"/>
<circle cx="618.8" cy="1001" r="9.0"/>
<circle cx="626.5" cy="1001.3" r="9.0"/>
<circle cx="634.2" cy="1001.2" r="9.0"/>
<circle cx="641.8" cy="1002" r="9.0"/>
<circle cx="649.5" cy="1001" r="9.0"/>
<circle cx="657.1" cy="1000.8" r="9.0"/>
<circle cx="664.8" cy="1002" r="9.0"/>
<circle cx="672.5" cy="1001.4" r="9.0"/>
<circle cx="680.1" cy="1000.8" r="9.0"/>
<circle cx="687.8" cy="1001.4" r="9.0"/>
<circle cx="695.4" cy="1000.6" r="9.0"/>
<circle cx="703.1" cy="1001.3" r="9.0"/>
<circle cx="710.8" cy="1001.9" r="9.0"/>
<circle cx="718.4" cy="1001.7" r="9.0"/>
<circle cx="726.1" cy="1001.4" r="9.0"/>
<circle cx="733.7" cy="1000.8" r="9.0"/>
<circle cx="741.4" cy="1000.9" r="9.0"/>
<circle cx="749.1" cy="1000.6" r="9.0"/>
<circle cx="756.7" cy="1001.4" r="9.0"/>
<circle cx="764.4" cy="1001.1" r="9.0"/>
<circle cx="772" cy="1001.4" r="9.0"/>
<circle cx="779.7" cy="1000.7" r="9.0"/>
<circle cx="787.4" cy="1000.5" r="9.0"/>
<circle cx="795" cy="1001.3" r="9.0"/>
<circle cx="802.7" cy="1001.5" r="9.0"/>
<circle cx="810.3" cy="1001.3" r="9.0"/>
<circle cx="818" cy="1001.2" r="9.0"/>
<circle cx="825.7" cy="1001.2" r="9.0"/>
<circle cx="833.3" cy="1001.1" r="9.0"/>
<circle cx="841" cy="1000.3" r="9.0"/>
<circle cx="848.6" cy="1000.7" r="9.0"/>
<circle cx="856.3" cy="1000.4" r="9.0"/>
<circle cx="864" cy="1000" r="9.0"/>
<circle cx="871.6" cy="999.9" r="9.0"/>
<circle cx="879.3" cy="1000.3" r="9.0"/>
<circle cx="886.9" cy="1000.2" r="9.0"/>
<circle cx="894.6" cy="1000.8" r="9.0"/>
</g>
<path d="M127 1194.7h18.6l-9.3 16.6zM134.6 1256.7h18.6l-9.3 16.6zM142.3 1267.2h18.6l-9.3 16.6zM149.9 1276.8h18.6l-9.3 16.6zM157.6 1285.2h18.6l-9.3 16.6zM165.3 1292.2h18.6l-9.3 16.6zM172.9 1298.9h18.6l-9.3 16.6zM180.6 1305.3h18.6l-9.3 16.6zM188.2 1311.3h18.6l-9.3 16.6zM195.9 1316.7h18.6l-9.3 16.6zM203.6 1321.4h18.6l-9.3 16.6zM211.2 1325.6h18.6l-9.3 16.6zM218.9 1329.3h18.6l-9.3 16.6zM226.5 1332.7h18.6l-9.3 16.6zM234.2 1336.2h18.6l-9.3 16.6zM241.9 1339.6h18.6l-9.3 16.6zM249.5 1343h18.6l-9.3 16.6zM257.2 1346.1h18.6l-9.3 16.6zM264.8 1349h18.6l-9.3 16.6zM272.5 1351.7h18.6l-9.3 16.6zM280.2 1354.2h18.6l-9.3 16.6zM287.8 1356.7h18.6l-9.3 16.6zM295.5 1359h18.6l-9.3 16.6zM303.1 1361.4h18.6l-9.3 16.6zM310.8 1363.6h18.6l-9.3 16.6zM318.5 1365.9h18.6l-9.3 16.6zM326.1 1368h18.6l-9.3 16.6zM333.8 1370.1h18.6l-9.3 16.6zM341.4 1372.2h18.6l-9.3 16.6zM349.1 1374.2h18.6l-9.3 16.6zM356.8 1376.1h18.6l-9.3 16.6zM364.4 1378h18.6l-9.3 16.6zM372.1 1379.8h18.6l-9.3 16.6zM379.7 1381.6h18.6l-9.3 16.6zM387.4 1383.3h18.6l-9.3 16.6zM395.1 1385h18.6l-9.3 16.6zM402.7 1386.6h18.6l-9.3 16.6zM410.4 1388.1h18.6l-9.3 16.6zM418 1389.7h18.6l-9.3 16.6zM425.7 1391.2h18.6l-9.3 16.6zM433.4 1392.7h18.6l-9.3 16.6zM441 1394.1h18.6l-9.3 16.6zM448.7 1395.5h18.6l-9.3 16.6zM456.3 1396.8h18.6l-9.3 16.6zM464 1398.1h18.6l-9.3 16.6zM471.7 1399.4h18.6l-9.3 16.6zM479.3 1400.6h18.6l-9.3 16.6zM487 1401.8h18.6l-9.3 16.6zM494.6 1403h18.6l-9.3 16.6zM502.3 1404.2h18.6l-9.3 16.6zM510 1405.4h18.6l-9.3 16.6zM517.6 1406.5h18.6l-9.3 16.6zM525.3 1407.6h18.6l-9.3 16.6zM532.9 1408.7h18.6l-9.3 16.6zM540.6 1409.7h18.6l-9.3 16.6zM548.3 1410.8h18.6l-9.3 16.6zM555.9 1411.8h18.6l-9.3 16.6zM563.6 1412.8h18.6l-9.3 16.6zM571.2 1413.7h18.6l-9.3 16.6zM578.9 1414.7h18.6l-9.3 16.6zM586.6 1415.6h18.6l-9.3 16.6zM594.2 1416.6h18.6l-9.3 16.6zM601.9 1417.5h18.6l-9.3 16.6zM609.5 1418.4h18.6l-9.3 16.6zM617.2 1419.2h18.6l-9.3 16.6zM624.9 1420.1h18.6l-9.3 16.6zM632.5 1420.9h18.6l-9.3 16.6zM640.2 1421.7h18.6l-9.3 16.6zM647.8 1422.5h18.6l-9.3 16.6zM655.5 1423.2h18.6l-9.3 16.6zM663.2 1423.9h18.6l-9.3 16.6zM670.8 1424.6h18.6l-9.3 16.6zM678.5 1425.2h18.6l-9.3 16.6zM686.1 1425.8h18.6l-9.3 16.6zM693.8 1426.4h18.6l-9.3 16.6zM701.5 1426.9h18.6l-9.3 16.6zM709.1 1427.5h18.6l-9.3 16.6zM716.8 1428h18.6l-9.3 16.6zM724.4 1428.6h18.6l-9.3 16.6zM732.1 1429.2h18.6l-9.3 16.6zM739.8 1429.8h18.6l-9.3 16.6zM747.4 1430.4h18.6l-9.3 16.6zM755.1 1431h18.6l-9.3 16.6zM762.7 1431.6h18.6l-9.3 16.6zM770.4 1432.2h18.6l-9.3 16.6zM778.1 1432.9h18.6l-9.3 16.6zM785.7 1433.5h18.6l-9.3 16.6zM793.4 1434h18.6l-9.3 16.6zM801 1434.6h18.6l-9.3 16.6zM808.7 1435.2h18.6l-9.3 16.6zM816.4 1435.8h18.6l-9.3 16.6zM824 1436.3h18.6l-9.3 16.6zM831.7 1436.8h18.6l-9.3 16.6zM839.3 1437.4h18.6l-9.3 16.6zM847 1437.9h18.6l-9.3 16.6zM854.7 1438.4h18.6l-9.3 16.6zM862.3 1438.9h18.6l-9.3 16.6zM870 1439.5h18.6l-9.3 16.6zM877.6 1440h18.6l-9.3 16.6zM885.3 1440.5h18.6l-9.3 16.6z" fill="#ff0000"/>
<g fill="none" stroke="#ff0000" stroke-width="1.85">
<circle cx="143.9" cy="1449.5" r="9.0"/>
<circle cx="151.6" cy="1159.9" r="9.0"/>
<circle cx="159.2" cy="1128.6" r="9.0"/>
<circle cx="166.9" cy="1109.6" r="9.0"/>
<circle cx="174.6" cy="1093.6" r="9.0"/>
<circle cx="182.2" cy="1085" r="9.0"/>
<circle cx="189.9" cy="1079.5" r="9.0"/>
<circle cx="197.5" cy="1077.7" r="9.0"/>
<circle cx="205.2" cy="1071.3" r="9.0"/>
<circle cx="212.9" cy="1070.8" r="9.0"/>
<circle cx="220.5" cy="1067.9" r="9.0"/>
<circle cx="228.2" cy="1064.9" r="9.0"/>
<circle cx="235.8" cy="1059" r="9.0"/>
<circle cx="243.5" cy="1055.4" r="9.0"/>
<circle cx="251.2" cy="1053.4" r="9.0"/>
<circle cx="258.8" cy="1051.2" r="9.0"/>
<circle cx="266.5" cy="1049.2" r="9.0"/>
<circle cx="274.1" cy="1049.2" r="9.0"/>
<circle cx="281.8" cy="1048.5" r="9.0"/>
<circle cx="289.5" cy="1046.9" r="9.0"/>
<circle cx="297.1" cy="1029.3" r="9.0"/>
<circle cx="304.8" cy="1060.5" r="9.0"/>
<circle cx="312.4" cy="1043.1" r="9.0"/>
<circle cx="320.1" cy="1038.4" r="9.0"/>
<circle cx="327.8" cy="1040.5" r="9.0"/>
<circle cx="335.4" cy="1040.9" r="9.0"/>
<circle cx="343.1" cy="1039.3" r="9.0"/>
<circle cx="350.7" cy="1038.2" r="9.0"/>
<circle cx="358.4" cy="1035.9" r="9.0"/>
<circle cx="366.1" cy="1033.8" r="9.0"/>
<circle cx="373.7" cy="1036.5" r="9.0"/>
<circle cx="381.4" cy="1033.6" r="9.0"/>
<circle cx="389" cy="1035.6" r="9.0"/>
<circle cx="396.7" cy="1036" r="9.0"/>
<circle cx="404.4" cy="1032.5" r="9.0"/>
<circle cx="412" cy="1032" r="9.0"/>
<circle cx="419.7" cy="1034.3" r="9.0"/>
<circle cx="427.3" cy="1032.7" r="9.0"/>
<circle cx="435" cy="1029.3" r="9.0"/>
<circle cx="442.7" cy="1028.6" r="9.0"/>
<circle cx="450.3" cy="1028.2" r="9.0"/>
<circle cx="458" cy="1031.6" r="9.0"/>
<circle cx="465.6" cy="1030.6" r="9.0"/>
<circle cx="473.3" cy="1026.7" r="9.0"/>
<circle cx="481" cy="1029.7" r="9.0"/>
<circle cx="488.6" cy="1030" r="9.0"/>
<circle cx="496.3" cy="1027.8" r="9.0"/>
<circle cx="503.9" cy="1025.9" r="9.0"/>
<circle cx="511.6" cy="1026.6" r="9.0"/>
<circle cx="519.3" cy="1024.1" r="9.0"/>
<circle cx="526.9" cy="1023.2" r="9.0"/>
<circle cx="534.6" cy="1027.9" r="9.0"/>
<circle cx="542.2" cy="1025.9" r="9.0"/>
<circle cx="549.9" cy="1024.9" r="9.0"/>
<circle cx="557.6" cy="1026.7" r="9.0"/>
<circle cx="565.2" cy="1023.8" r="9.0"/>
<circle cx="572.9" cy="1025.8" r="9.0"/>
<circle cx="580.5" cy="1025.2" r="9.0"/>
<circle cx="588.2" cy="1021.7" r="9.0"/>
<circle cx="595.9" cy="1021.6" r="9.0"/>
<circle cx="603.5" cy="1021.5" r="9.0"/>
<circle cx="611.2" cy="1020.9" r="9.0"/>
<circle cx="618.8" cy="1022.4" r="9.0"/>
<circle cx="626.5" cy="1020.4" r="9.0"/>
<circle cx="634.2" cy="1020.9" r="9.0"/>
<circle cx="641.8" cy="1019.1" r="9.0"/>
<circle cx="649.5" cy="1023" r="9.0"/>
<circle cx="657.1" cy="1020" r="9.0"/>
<circle cx="664.8" cy="1020.4" r="9.0"/>
<circle cx="672.5" cy="1021" r="9.0"/>
<circle cx="680.1" cy="1022.5" r="9.0"/>
<circle cx="687.8" cy="1019.9" r="9.0"/>
<circle cx="695.4" cy="977" r="9.0"/>
<circle cx="703.1" cy="1067" r="9.0"/>
<circle cx="710.8" cy="1020.1" r="9.0"/>
<circle cx="718.4" cy="1020" r="9.0"/>
<circle cx="726.1" cy="1017.2" r="9.0"/>
<circle cx="733.7" cy="1019.3" r="9.0"/>
<circle cx="741.4" cy="1017.9" r="9.0"/>
<circle cx="749.1" cy="1016.9" r="9.0"/>
<circle cx="756.7" cy="1021" r="9.0"/>
<circle cx="764.4" cy="1017.6" r="9.0"/>
<circle cx="772" cy="1019.2" r="9.0"/>
<circle cx="779.7" cy="1020.4" r="9.0"/>
<circle cx="787.4" cy="1019.5" r="9.0"/>
<circle cx="795" cy="1018.2" r="9.0"/>
<circle cx="802.7" cy="1019.2" r="9.0"/>
<circle cx="810.3" cy="1019.3" r="9.0"/>
<circle cx="818" cy="1020.5" r="9.0"/>
<circle cx="825.7" cy="1016.9" r="9.0"/>
<circle cx="833.3" cy="1019.2" r="9.0"/>
<circle cx="841" cy="1017.5" r="9.0"/>
<circle cx="848.6" cy="1017.6" r="9.0"/>
<circle cx="856.3" cy="1020.2" r="9.0"/>
<circle cx="864" cy="1018.7" r="9.0"/>
<circle cx="871.6" cy="1019" r="9.0"/>
<circle cx="879.3" cy="1020" r="9.0"/>
<circle cx="886.9" cy="1020.7" r="9.0"/>
<circle cx="894.6" cy="1018.2" r="9.0"/>
</g>
<path d="M127 1041.7h18.6l-9.3 16.6zM134.6 1066.7h18.6l-9.3 16.6zM142.3 1069.7h18.6l-9.3 16.6zM149.9 1072.3h18.6l-9.3 16.6zM157.6 1074.7h18.6l-9.3 16.6zM165.3 1076.8h18.6l-9.3 16.6zM172.9 1078.9h18.6l-9.3 16.6zM180.6 1081h18.6l-9.3 16.6zM188.2 1082.9h18.6l-9.3 16.6zM195.9 1084.7h18.6l-9.3 16.6zM203.6 1086.4h18.6l-9.3 16.6zM211.2 1088h18.6l-9.3 16.6zM218.9 1089.7h18.6l-9.3 16.6zM226.5 1091.3h18.6l-9.3 16.6zM234.2 1092.8h18.6l-9.3 16.6zM241.9 1094.4h18.6l-9.3 16.6zM249.5 1095.9h18.6l-9.3 16.6zM257.2 1097.3h18.6l-9.3 16.6zM264.8 1098.8h18.6l-9.3 16.6zM272.5 1100.2h18.6l-9.3 16.6zM280.2 1101.6h18.6l-9.3 16.6zM287.8 1102.9h18.6l-9.3 16.6zM295.5 1104.2h18.6l-9.3 16.6zM303.1 1105.5h18.6l-9.3 16.6zM310.8 1106.8h18.6l-9.3 16.6zM318.5 1108h18.6l-9.3 16.6zM326.1 1109.2h18.6l-9.3 16.6zM333.8 1110.4h18.6l-9.3 16.6zM341.4 1111.5h18.6l-9.3 16.6zM349.1 1112.7h18.6l-9.3 16.6zM356.8 1113.8h18.6l-9.3 16.6zM364.4 1114.9h18.6l-9.3 16.6zM372.1 1116h18.6l-9.3 16.6zM379.7 1117.1h18.6l-9.3 16.6zM387.4 1118.1h18.6l-9.3 16.6zM395.1 1119.2h18.6l-9.3 16.6zM402.7 1120.2h18.6l-9.3 16.6zM410.4 1121.2h18.6l-9.3 16.6zM418 1122.2h18.6l-9.3 16.6zM425.7 1123.2h18.6l-9.3 16.6zM433.4 1124.2h18.6l-9.3 16.6zM441 1125.2h18.6l-9.3 16.6zM448.7 1126.1h18.6l-9.3 16.6zM456.3 1127.1h18.6l-9.3 16.6zM464 1128h18.6l-9.3 16.6zM471.7 1129h18.6l-9.3 16.6zM479.3 1129.9h18.6l-9.3 16.6zM487 1130.8h18.6l-9.3 16.6zM494.6 1131.8h18.6l-9.3 16.6zM502.3 1132.7h18.6l-9.3 16.6zM510 1133.6h18.6l-9.3 16.6zM517.6 1134.5h18.6l-9.3 16.6zM525.3 1135.5h18.6l-9.3 16.6zM532.9 1136.4h18.6l-9.3 16.6zM540.6 1137.3h18.6l-9.3 16.6zM548.3 1138.2h18.6l-9.3 16.6zM555.9 1139.1h18.6l-9.3 16.6zM563.6 1139.9h18.6l-9.3 16.6zM571.2 1140.8h18.6l-9.3 16.6zM578.9 1141.7h18.6l-9.3 16.6zM586.6 1142.6h18.6l-9.3 16.6zM594.2 1143.4h18.6l-9.3 16.6zM601.9 1144.3h18.6l-9.3 16.6zM609.5 1145.1h18.6l-9.3 16.6zM617.2 1146h18.6l-9.3 16.6zM624.9 1146.8h18.6l-9.3 16.6zM632.5 1147.7h18.6l-9.3 16.6zM640.2 1148.5h18.6l-9.3 16.6zM647.8 1149.4h18.6l-9.3 16.6zM655.5 1150.2h18.6l-9.3 16.6zM663.2 1151.1h18.6l-9.3 16.6zM670.8 1151.9h18.6l-9.3 16.6zM678.5 1152.8h18.6l-9.3 16.6zM686.1 1153.6h18.6l-9.3 16.6zM693.8 1154.5h18.6l-9.3 16.6zM701.5 1155.3h18.6l-9.3 16.6zM709.1 1156.2h18.6l-9.3 16.6zM716.8 1157h18.6l-9.3 16.6zM724.4 1157.9h18.6l-9.3 16.6zM732.1 1158.7h18.6l-9.3 16.6zM739.8 1159.5h18.6l-9.3 16.6zM747.4 1160.3h18.6l-9.3 16.6zM755.1 1161.2h18.6l-9.3 16.6zM762.7 1162h18.6l-9.3 16.6zM770.4 1162.8h18.6l-9.3 16.6zM778.1 1163.6h18.6l-9.3 16.6zM785.7 1164.4h18.6l-9.3 16.6zM793.4 1165.2h18.6l-9.3 16.6zM801 1165.9h18.6l-9.3 16.6zM808.7 1166.7h18.6l-9.3 16.6zM816.4 1167.4h18.6l-9.3 16.6zM824 1168.2h18.6l-9.3 16.6zM831.7 1168.9h18.6l-9.3 16.6zM839.3 1169.6h18.6l-9.3 16.6zM847 1170.3h18.6l-9.3 16.6zM854.7 1170.9h18.6l-9.3 16.6zM862.3 1171.6h18.6l-9.3 16.6zM870 1172.3h18.6l-9.3 16.6zM877.6 1173h18.6l-9.3 16.6zM885.3 1173.7h18.6l-9.3 16.6z" fill="#2f9e68"/>
<g fill="none" stroke="#0b9a3c" stroke-width="1.85">
<circle cx="136.3" cy="1290.5" r="9.0"/>
<circle cx="143.9" cy="1171" r="9.0"/>
<circle cx="151.6" cy="1042" r="9.0"/>
<circle cx="159.2" cy="1036" r="9.0"/>
<circle cx="166.9" cy="1032" r="9.0"/>
<circle cx="174.6" cy="1028.5" r="9.0"/>
<circle cx="182.2" cy="1026.2" r="9.0"/>
<circle cx="189.9" cy="1024" r="9.0"/>
<circle cx="197.5" cy="1023.1" r="9.0"/>
<circle cx="205.2" cy="1021.3" r="9.0"/>
<circle cx="212.9" cy="1021" r="9.0"/>
<circle cx="220.5" cy="1021.3" r="9.0"/>
<circle cx="228.2" cy="1020" r="9.0"/>
<circle cx="235.8" cy="1020" r="9.0"/>
<circle cx="243.5" cy="1019.4" r="9.0"/>
<circle cx="251.2" cy="1020.8" r="9.0"/>
<circle cx="258.8" cy="1019.5" r="9.0"/>
<circle cx="266.5" cy="1019.8" r="9.0"/>
<circle cx="274.1" cy="1019.7" r="9.0"/>
<circle cx="281.8" cy="1016.6" r="9.0"/>
<circle cx="289.5" cy="1017.7" r="9.0"/>
<circle cx="297.1" cy="1019" r="9.0"/>
<circle cx="304.8" cy="1018.4" r="9.0"/>
<circle cx="312.4" cy="1015.4" r="9.0"/>
<circle cx="320.1" cy="1015.2" r="9.0"/>
<circle cx="327.8" cy="1016.3" r="9.0"/>
<circle cx="335.4" cy="1014.6" r="9.0"/>
<circle cx="343.1" cy="1015.1" r="9.0"/>
<circle cx="350.7" cy="1014.3" r="9.0"/>
<circle cx="358.4" cy="1016.5" r="9.0"/>
<circle cx="366.1" cy="1016.9" r="9.0"/>
<circle cx="373.7" cy="1017.3" r="9.0"/>
<circle cx="381.4" cy="1014.2" r="9.0"/>
<circle cx="389" cy="1016.4" r="9.0"/>
<circle cx="396.7" cy="1016.1" r="9.0"/>
<circle cx="404.4" cy="1014" r="9.0"/>
<circle cx="412" cy="1016.9" r="9.0"/>
<circle cx="419.7" cy="1017.2" r="9.0"/>
<circle cx="427.3" cy="1014.1" r="9.0"/>
<circle cx="435" cy="1017" r="9.0"/>
<circle cx="442.7" cy="1014.7" r="9.0"/>
<circle cx="450.3" cy="1015" r="9.0"/>
<circle cx="458" cy="1016.9" r="9.0"/>
<circle cx="465.6" cy="1016.2" r="9.0"/>
<circle cx="473.3" cy="1013.5" r="9.0"/>
<circle cx="481" cy="1014.5" r="9.0"/>
<circle cx="488.6" cy="1014.8" r="9.0"/>
<circle cx="496.3" cy="1014" r="9.0"/>
<circle cx="503.9" cy="1013.3" r="9.0"/>
<circle cx="511.6" cy="1013.8" r="9.0"/>
<circle cx="519.3" cy="1015.3" r="9.0"/>
<circle cx="526.9" cy="1012.5" r="9.0"/>
<circle cx="534.6" cy="1014.5" r="9.0"/>
<circle cx="542.2" cy="1014" r="9.0"/>
<circle cx="549.9" cy="1012.3" r="9.0"/>
<circle cx="557.6" cy="1013.5" r="9.0"/>
<circle cx="565.2" cy="1014.6" r="9.0"/>
<circle cx="572.9" cy="1014.1" r="9.0"/>
<circle cx="580.5" cy="1012.2" r="9.0"/>
<circle cx="588.2" cy="1015.8" r="9.0"/>
<circle cx="595.9" cy="1015" r="9.0"/>
<circle cx="603.5" cy="1015.7" r="9.0"/>
<circle cx="611.2" cy="1012.1" r="9.0"/>
<circle cx="618.8" cy="1012.7" r="9.0"/>
<circle cx="626.5" cy="1011.8" r="9.0"/>
<circle cx="634.2" cy="1014.7" r="9.0"/>
<circle cx="641.8" cy="1012.6" r="9.0"/>
<circle cx="649.5" cy="1011.9" r="9.0"/>
<circle cx="657.1" cy="1013" r="9.0"/>
<circle cx="664.8" cy="1014.9" r="9.0"/>
<circle cx="672.5" cy="1014.5" r="9.0"/>
<circle cx="680.1" cy="1012.2" r="9.0"/>
<circle cx="687.8" cy="1011.7" r="9.0"/>
<circle cx="695.4" cy="1014.7" r="9.0"/>
<circle cx="703.1" cy="1013.3" r="9.0"/>
<circle cx="710.8" cy="1013.7" r="9.0"/>
<circle cx="718.4" cy="1011.2" r="9.0"/>
<circle cx="726.1" cy="1011.1" r="9.0"/>
<circle cx="733.7" cy="1013.5" r="9.0"/>
<circle cx="741.4" cy="1012.4" r="9.0"/>
<circle cx="749.1" cy="1010.9" r="9.0"/>
<circle cx="756.7" cy="1014.3" r="9.0"/>
<circle cx="764.4" cy="1013.1" r="9.0"/>
<circle cx="772" cy="1013.7" r="9.0"/>
<circle cx="779.7" cy="1010.7" r="9.0"/>
<circle cx="787.4" cy="1013.8" r="9.0"/>
<circle cx="795" cy="1010.5" r="9.0"/>
<circle cx="802.7" cy="1013.7" r="9.0"/>
<circle cx="810.3" cy="1012" r="9.0"/>
<circle cx="818" cy="1011.5" r="9.0"/>
<circle cx="825.7" cy="1012.3" r="9.0"/>
<circle cx="833.3" cy="1013.7" r="9.0"/>
<circle cx="841" cy="1011" r="9.0"/>
<circle cx="848.6" cy="1010.4" r="9.0"/>
<circle cx="856.3" cy="1011.9" r="9.0"/>
<circle cx="864" cy="1010.7" r="9.0"/>
<circle cx="871.6" cy="1010.1" r="9.0"/>
<circle cx="879.3" cy="1010.3" r="9.0"/>
<circle cx="886.9" cy="1009.8" r="9.0"/>
<circle cx="894.6" cy="1010.3" r="9.0"/>
</g>
</g>
<text font-size="39" text-anchor="middle" transform="translate(128.6 1652.6) scale(0.98 1.035)">0</text>
<text font-size="39" text-anchor="middle" transform="translate(205.2 1652.6) scale(0.98 1.035)">10</text>
<text font-size="39" text-anchor="middle" transform="translate(281.8 1652.6) scale(0.98 1.035)">20</text>
<text font-size="39" text-anchor="middle" transform="translate(358.4 1652.6) scale(0.98 1.035)">30</text>
<text font-size="39" text-anchor="middle" transform="translate(435 1652.6) scale(0.98 1.035)">40</text>
<text font-size="39" text-anchor="middle" transform="translate(511.6 1652.6) scale(0.98 1.035)">50</text>
<text font-size="39" text-anchor="middle" transform="translate(588.2 1652.6) scale(0.98 1.035)">60</text>
<text font-size="39" text-anchor="middle" transform="translate(664.8 1652.6) scale(0.98 1.035)">70</text>
<text font-size="39" text-anchor="middle" transform="translate(741.4 1652.6) scale(0.98 1.035)">80</text>
<text font-size="39" text-anchor="middle" transform="translate(818 1652.6) scale(0.98 1.035)">90</text>
<text font-size="39" text-anchor="middle" transform="translate(894.6 1652.6) scale(0.98 1.035)">100</text>
<text font-size="39" text-anchor="end" transform="translate(115 1617.8) scale(0.98 1.035)">0</text>
<text font-size="39" text-anchor="end" transform="translate(115 1554.2) scale(0.98 1.035)">20</text>
<text font-size="39" text-anchor="end" transform="translate(115 1490.5) scale(0.98 1.035)">40</text>
<text font-size="39" text-anchor="end" transform="translate(115 1426.9) scale(0.98 1.035)">60</text>
<text font-size="39" text-anchor="end" transform="translate(115 1363.3) scale(0.98 1.035)">80</text>
<text font-size="39" text-anchor="end" transform="translate(115 1299.6) scale(0.98 1.035)">100</text>
<text font-size="39" text-anchor="end" transform="translate(115 1236) scale(0.98 1.035)">120</text>
<text font-size="39" text-anchor="end" transform="translate(115 1172.4) scale(0.98 1.035)">140</text>
<text font-size="39" text-anchor="end" transform="translate(115 1108.8) scale(0.98 1.035)">160</text>
<text font-size="39" text-anchor="end" transform="translate(115 1045.1) scale(0.98 1.035)">180</text>
<text font-size="39" text-anchor="end" transform="translate(115 981.5) scale(0.98 1.035)">200</text>
<text font-size="39" text-anchor="start" transform="translate(907 1617.8) scale(0.98 1.035)">0.8</text>
<text font-size="39" text-anchor="start" transform="translate(907 1466.3) scale(0.98 1.035)">0.85</text>
<text font-size="39" text-anchor="start" transform="translate(907 1314.8) scale(0.98 1.035)">0.9</text>
<text font-size="39" text-anchor="start" transform="translate(907 1163.3) scale(0.98 1.035)">0.95</text>
<text font-size="39" text-anchor="start" transform="translate(907 1011.8) scale(0.98 1.035)">1</text>
<text x="511" y="1702" font-size="46" text-anchor="middle">Cycle Number</text>
<text font-size="46" text-anchor="middle" transform="translate(33 1286.3) rotate(-90) scale(0.99 1)">Discharge Capacity (mAh/g)</text>
<text x="999" y="1287" font-size="46" text-anchor="middle" transform="rotate(90 999 1287)">Coulombic Efficiency</text>
<path d="M188 1408.2h23l-11.5 19.6z" fill="#0000ff"/>
<text x="248.2" y="1429" font-size="35" text-anchor="start">HG</text>
<path d="M188 1454h23l-11.5 19.6z" fill="#000000"/>
<text x="248.2" y="1474.8" font-size="35" text-anchor="start">DPM</text>
<path d="M188 1499.8h23l-11.5 19.6z" fill="#ff0000"/>
<text x="248.2" y="1520.7" font-size="35" text-anchor="start">AG</text>
<path d="M188 1545.6h23l-11.5 19.6z" fill="#2f9e68"/>
<text x="248.2" y="1566.5" font-size="35" text-anchor="start">JM</text>
</g>
<g id="panel-d">
<text x="1108.5" y="904.7" font-size="48" text-anchor="start">(d)</text>
<rect x="1247.5" y="968.2" width="767.1" height="636.8" fill="none" stroke="#000" stroke-width="4.0" stroke-linejoin="round"/>
<path d="M1285.9 1605v-6.1M1285.9 968.2v6.1M1324.2 1605v-12.4M1324.2 968.2v12.4M1362.6 1605v-6.1M1362.6 968.2v6.1M1400.9 1605v-12.4M1400.9 968.2v12.4M1439.3 1605v-6.1M1439.3 968.2v6.1M1477.6 1605v-12.4M1477.6 968.2v12.4M1516 1605v-6.1M1516 968.2v6.1M1554.3 1605v-12.4M1554.3 968.2v12.4M1592.7 1605v-6.1M1592.7 968.2v6.1M1631 1605v-12.4M1631 968.2v12.4M1669.4 1605v-6.1M1669.4 968.2v6.1M1707.8 1605v-12.4M1707.8 968.2v12.4M1746.1 1605v-6.1M1746.1 968.2v6.1M1784.5 1605v-12.4M1784.5 968.2v12.4M1822.8 1605v-6.1M1822.8 968.2v6.1M1861.2 1605v-12.4M1861.2 968.2v12.4M1899.5 1605v-6.1M1899.5 968.2v6.1M1937.9 1605v-12.4M1937.9 968.2v12.4M1976.2 1605v-6.1M1976.2 968.2v6.1M1247.5 1573.2h6.1M2014.6 1573.2h-6.1M1247.5 1541.3h12.4M2014.6 1541.3h-12.4M1247.5 1509.5h6.1M2014.6 1509.5h-6.1M1247.5 1477.6h12.4M2014.6 1477.6h-12.4M1247.5 1445.8h6.1M2014.6 1445.8h-6.1M1247.5 1414h12.4M2014.6 1414h-12.4M1247.5 1382.1h6.1M2014.6 1382.1h-6.1M1247.5 1350.3h12.4M2014.6 1350.3h-12.4M1247.5 1318.4h6.1M2014.6 1318.4h-6.1M1247.5 1286.6h12.4M2014.6 1286.6h-12.4M1247.5 1254.8h6.1M2014.6 1254.8h-6.1M1247.5 1222.9h12.4M2014.6 1222.9h-12.4M1247.5 1191.1h6.1M2014.6 1191.1h-6.1M1247.5 1159.2h12.4M2014.6 1159.2h-12.4M1247.5 1127.4h6.1M2014.6 1127.4h-6.1M1247.5 1095.6h12.4M2014.6 1095.6h-12.4M1247.5 1063.7h6.1M2014.6 1063.7h-6.1M1247.5 1031.9h12.4M2014.6 1031.9h-12.4M1247.5 1000h6.1M2014.6 1000h-6.1" fill="none" stroke="#000" stroke-width="3.8" stroke-linecap="round"/>
<g fill="#0000ff">
<circle cx="1255.2" cy="1575.7" r="6.9"/>
<circle cx="1262.8" cy="1527.6" r="6.9"/>
<circle cx="1270.5" cy="1519.7" r="6.9"/>
<circle cx="1278.2" cy="1514.7" r="6.9"/>
<circle cx="1285.9" cy="1511" r="6.9"/>
<circle cx="1293.5" cy="1508.2" r="6.9"/>
<circle cx="1301.2" cy="1505.6" r="6.9"/>
<circle cx="1308.9" cy="1503.3" r="6.9"/>
<circle cx="1316.5" cy="1501.2" r="6.9"/>
<circle cx="1324.2" cy="1499.5" r="6.9"/>
<circle cx="1331.9" cy="1498" r="6.9"/>
<circle cx="1339.6" cy="1496.6" r="6.9"/>
<circle cx="1347.2" cy="1495.3" r="6.9"/>
<circle cx="1354.9" cy="1494.1" r="6.9"/>
<circle cx="1362.6" cy="1493" r="6.9"/>
<circle cx="1370.2" cy="1491.9" r="6.9"/>
<circle cx="1377.9" cy="1490.9" r="6.9"/>
<circle cx="1385.6" cy="1489.9" r="6.9"/>
<circle cx="1393.2" cy="1488.9" r="6.9"/>
<circle cx="1400.9" cy="1488" r="6.9"/>
<circle cx="1408.6" cy="1487.1" r="6.9"/>
<circle cx="1416.3" cy="1486.3" r="6.9"/>
<circle cx="1423.9" cy="1485.5" r="6.9"/>
<circle cx="1431.6" cy="1484.8" r="6.9"/>
<circle cx="1439.3" cy="1484.1" r="6.9"/>
<circle cx="1446.9" cy="1483.5" r="6.9"/>
<circle cx="1454.6" cy="1482.8" r="6.9"/>
<circle cx="1462.3" cy="1482.2" r="6.9"/>
<circle cx="1470" cy="1481.6" r="6.9"/>
<circle cx="1477.6" cy="1481" r="6.9"/>
<circle cx="1485.3" cy="1480.4" r="6.9"/>
<circle cx="1493" cy="1479.8" r="6.9"/>
<circle cx="1500.6" cy="1479.1" r="6.9"/>
<circle cx="1508.3" cy="1478.5" r="6.9"/>
<circle cx="1516" cy="1477.9" r="6.9"/>
<circle cx="1523.7" cy="1477.3" r="6.9"/>
<circle cx="1531.3" cy="1476.7" r="6.9"/>
<circle cx="1539" cy="1476.1" r="6.9"/>
<circle cx="1546.7" cy="1475.5" r="6.9"/>
<circle cx="1554.3" cy="1474.9" r="6.9"/>
<circle cx="1562" cy="1474.3" r="6.9"/>
<circle cx="1569.7" cy="1473.7" r="6.9"/>
<circle cx="1577.4" cy="1473.2" r="6.9"/>
<circle cx="1585" cy="1472.6" r="6.9"/>
<circle cx="1592.7" cy="1472.1" r="6.9"/>
<circle cx="1600.4" cy="1471.5" r="6.9"/>
<circle cx="1608" cy="1471" r="6.9"/>
<circle cx="1615.7" cy="1470.5" r="6.9"/>
<circle cx="1623.4" cy="1470" r="6.9"/>
<circle cx="1631" cy="1469.5" r="6.9"/>
<circle cx="1638.7" cy="1469" r="6.9"/>
<circle cx="1646.4" cy="1468.6" r="6.9"/>
<circle cx="1654.1" cy="1468.1" r="6.9"/>
<circle cx="1661.7" cy="1467.7" r="6.9"/>
<circle cx="1669.4" cy="1467.3" r="6.9"/>
<circle cx="1677.1" cy="1466.9" r="6.9"/>
<circle cx="1684.7" cy="1466.5" r="6.9"/>
<circle cx="1692.4" cy="1466.1" r="6.9"/>
<circle cx="1700.1" cy="1465.7" r="6.9"/>
<circle cx="1707.8" cy="1465.4" r="6.9"/>
<circle cx="1715.4" cy="1465" r="6.9"/>
<circle cx="1723.1" cy="1464.6" r="6.9"/>
<circle cx="1730.8" cy="1464.3" r="6.9"/>
<circle cx="1738.4" cy="1464" r="6.9"/>
<circle cx="1746.1" cy="1463.6" r="6.9"/>
<circle cx="1753.8" cy="1463.3" r="6.9"/>
<circle cx="1761.5" cy="1463" r="6.9"/>
<circle cx="1769.1" cy="1462.6" r="6.9"/>
<circle cx="1776.8" cy="1462.3" r="6.9"/>
<circle cx="1784.5" cy="1462" r="6.9"/>
<circle cx="1792.1" cy="1461.7" r="6.9"/>
<circle cx="1799.8" cy="1461.4" r="6.9"/>
<circle cx="1807.5" cy="1461.1" r="6.9"/>
<circle cx="1815.2" cy="1460.8" r="6.9"/>
<circle cx="1822.8" cy="1460.5" r="6.9"/>
<circle cx="1830.5" cy="1460.2" r="6.9"/>
<circle cx="1838.2" cy="1459.9" r="6.9"/>
<circle cx="1845.8" cy="1459.6" r="6.9"/>
<circle cx="1853.5" cy="1459.3" r="6.9"/>
<circle cx="1861.2" cy="1459" r="6.9"/>
<circle cx="1868.9" cy="1458.7" r="6.9"/>
<circle cx="1876.5" cy="1458.4" r="6.9"/>
<circle cx="1884.2" cy="1458.2" r="6.9"/>
<circle cx="1891.9" cy="1457.9" r="6.9"/>
<circle cx="1899.5" cy="1457.6" r="6.9"/>
<circle cx="1907.2" cy="1457.3" r="6.9"/>
<circle cx="1914.9" cy="1457.1" r="6.9"/>
<circle cx="1922.5" cy="1456.8" r="6.9"/>
<circle cx="1930.2" cy="1456.5" r="6.9"/>
<circle cx="1937.9" cy="1456.3" r="6.9"/>
<circle cx="1945.6" cy="1456" r="6.9"/>
<circle cx="1953.2" cy="1455.7" r="6.9"/>
<circle cx="1960.9" cy="1455.4" r="6.9"/>
<circle cx="1968.6" cy="1455.2" r="6.9"/>
<circle cx="1976.2" cy="1454.9" r="6.9"/>
<circle cx="1983.9" cy="1454.6" r="6.9"/>
<circle cx="1991.6" cy="1454.3" r="6.9"/>
<circle cx="1999.3" cy="1454.1" r="6.9"/>
<circle cx="2006.9" cy="1453.8" r="6.9"/>
<circle cx="2014.6" cy="1453.5" r="6.9"/>
</g>
<g fill="#000000">
<circle cx="1255.2" cy="1580" r="6.9"/>
<circle cx="1262.8" cy="1555.2" r="6.9"/>
<circle cx="1270.5" cy="1546.5" r="6.9"/>
<circle cx="1278.2" cy="1545.3" r="6.9"/>
<circle cx="1285.9" cy="1544.5" r="6.9"/>
<circle cx="1293.5" cy="1544.1" r="6.9"/>
<circle cx="1301.2" cy="1543.9" r="6.9"/>
<circle cx="1308.9" cy="1543.7" r="6.9"/>
<circle cx="1316.5" cy="1543.5" r="6.9"/>
<circle cx="1324.2" cy="1543" r="6.9"/>
<circle cx="1331.9" cy="1542.4" r="6.9"/>
<circle cx="1339.6" cy="1541.7" r="6.9"/>
<circle cx="1347.2" cy="1541" r="6.9"/>
<circle cx="1354.9" cy="1540.2" r="6.9"/>
<circle cx="1362.6" cy="1539.5" r="6.9"/>
<circle cx="1370.2" cy="1538.7" r="6.9"/>
<circle cx="1377.9" cy="1538" r="6.9"/>
<circle cx="1385.6" cy="1537.3" r="6.9"/>
<circle cx="1393.2" cy="1536.6" r="6.9"/>
<circle cx="1400.9" cy="1536" r="6.9"/>
<circle cx="1408.6" cy="1535.4" r="6.9"/>
<circle cx="1416.3" cy="1534.8" r="6.9"/>
<circle cx="1423.9" cy="1534.3" r="6.9"/>
<circle cx="1431.6" cy="1533.7" r="6.9"/>
<circle cx="1439.3" cy="1533.2" r="6.9"/>
<circle cx="1446.9" cy="1532.7" r="6.9"/>
<circle cx="1454.6" cy="1532.3" r="6.9"/>
<circle cx="1462.3" cy="1531.8" r="6.9"/>
<circle cx="1470" cy="1531.4" r="6.9"/>
<circle cx="1477.6" cy="1531" r="6.9"/>
<circle cx="1485.3" cy="1530.6" r="6.9"/>
<circle cx="1493" cy="1530.2" r="6.9"/>
<circle cx="1500.6" cy="1529.9" r="6.9"/>
<circle cx="1508.3" cy="1529.5" r="6.9"/>
<circle cx="1516" cy="1529.1" r="6.9"/>
<circle cx="1523.7" cy="1528.8" r="6.9"/>
<circle cx="1531.3" cy="1528.4" r="6.9"/>
<circle cx="1539" cy="1528.1" r="6.9"/>
<circle cx="1546.7" cy="1527.7" r="6.9"/>
<circle cx="1554.3" cy="1527.4" r="6.9"/>
<circle cx="1562" cy="1527.1" r="6.9"/>
<circle cx="1569.7" cy="1526.8" r="6.9"/>
<circle cx="1577.4" cy="1526.5" r="6.9"/>
<circle cx="1585" cy="1526.2" r="6.9"/>
<circle cx="1592.7" cy="1525.9" r="6.9"/>
<circle cx="1600.4" cy="1525.6" r="6.9"/>
<circle cx="1608" cy="1525.3" r="6.9"/>
<circle cx="1615.7" cy="1525" r="6.9"/>
<circle cx="1623.4" cy="1524.8" r="6.9"/>
<circle cx="1631" cy="1524.5" r="6.9"/>
<circle cx="1638.7" cy="1524.3" r="6.9"/>
<circle cx="1646.4" cy="1524" r="6.9"/>
<circle cx="1654.1" cy="1523.8" r="6.9"/>
<circle cx="1661.7" cy="1523.6" r="6.9"/>
<circle cx="1669.4" cy="1523.4" r="6.9"/>
<circle cx="1677.1" cy="1523.2" r="6.9"/>
<circle cx="1684.7" cy="1523" r="6.9"/>
<circle cx="1692.4" cy="1522.9" r="6.9"/>
<circle cx="1700.1" cy="1522.7" r="6.9"/>
<circle cx="1707.8" cy="1522.5" r="6.9"/>
<circle cx="1715.4" cy="1522.4" r="6.9"/>
<circle cx="1723.1" cy="1522.2" r="6.9"/>
<circle cx="1730.8" cy="1522.1" r="6.9"/>
<circle cx="1738.4" cy="1521.9" r="6.9"/>
<circle cx="1746.1" cy="1521.8" r="6.9"/>
<circle cx="1753.8" cy="1521.6" r="6.9"/>
<circle cx="1761.5" cy="1521.5" r="6.9"/>
<circle cx="1769.1" cy="1521.3" r="6.9"/>
<circle cx="1776.8" cy="1521.2" r="6.9"/>
<circle cx="1784.5" cy="1521" r="6.9"/>
<circle cx="1792.1" cy="1520.8" r="6.9"/>
<circle cx="1799.8" cy="1520.7" r="6.9"/>
<circle cx="1807.5" cy="1520.5" r="6.9"/>
<circle cx="1815.2" cy="1520.3" r="6.9"/>
<circle cx="1822.8" cy="1520.2" r="6.9"/>
<circle cx="1830.5" cy="1520" r="6.9"/>
<circle cx="1838.2" cy="1519.8" r="6.9"/>
<circle cx="1845.8" cy="1519.7" r="6.9"/>
<circle cx="1853.5" cy="1519.5" r="6.9"/>
<circle cx="1861.2" cy="1519.3" r="6.9"/>
<circle cx="1868.9" cy="1519.2" r="6.9"/>
<circle cx="1876.5" cy="1519" r="6.9"/>
<circle cx="1884.2" cy="1518.8" r="6.9"/>
<circle cx="1891.9" cy="1518.7" r="6.9"/>
<circle cx="1899.5" cy="1518.5" r="6.9"/>
<circle cx="1907.2" cy="1518.3" r="6.9"/>
<circle cx="1914.9" cy="1518.2" r="6.9"/>
<circle cx="1922.5" cy="1518" r="6.9"/>
<circle cx="1930.2" cy="1517.8" r="6.9"/>
<circle cx="1937.9" cy="1517.7" r="6.9"/>
<circle cx="1945.6" cy="1517.5" r="6.9"/>
<circle cx="1953.2" cy="1517.3" r="6.9"/>
<circle cx="1960.9" cy="1517.2" r="6.9"/>
<circle cx="1968.6" cy="1517" r="6.9"/>
<circle cx="1976.2" cy="1516.8" r="6.9"/>
<circle cx="1983.9" cy="1516.7" r="6.9"/>
<circle cx="1991.6" cy="1516.5" r="6.9"/>
<circle cx="1999.3" cy="1516.3" r="6.9"/>
<circle cx="2006.9" cy="1516.2" r="6.9"/>
<circle cx="2014.6" cy="1516" r="6.9"/>
</g>
<g fill="#ff0000">
<circle cx="1255.2" cy="1377.5" r="6.9"/>
<circle cx="1262.8" cy="1439.6" r="6.9"/>
<circle cx="1270.5" cy="1422.8" r="6.9"/>
<circle cx="1278.2" cy="1417.2" r="6.9"/>
<circle cx="1285.9" cy="1412.1" r="6.9"/>
<circle cx="1293.5" cy="1407.5" r="6.9"/>
<circle cx="1301.2" cy="1403.3" r="6.9"/>
<circle cx="1308.9" cy="1399.3" r="6.9"/>
<circle cx="1316.5" cy="1395.6" r="6.9"/>
<circle cx="1324.2" cy="1392" r="6.9"/>
<circle cx="1331.9" cy="1388.5" r="6.9"/>
<circle cx="1339.6" cy="1385.3" r="6.9"/>
<circle cx="1347.2" cy="1382.1" r="6.9"/>
<circle cx="1354.9" cy="1379.1" r="6.9"/>
<circle cx="1362.6" cy="1376.2" r="6.9"/>
<circle cx="1370.2" cy="1373.4" r="6.9"/>
<circle cx="1377.9" cy="1370.6" r="6.9"/>
<circle cx="1385.6" cy="1367.8" r="6.9"/>
<circle cx="1393.2" cy="1364.9" r="6.9"/>
<circle cx="1400.9" cy="1362" r="6.9"/>
<circle cx="1408.6" cy="1359.3" r="6.9"/>
<circle cx="1416.3" cy="1355.2" r="6.9"/>
<circle cx="1423.9" cy="1354.2" r="6.9"/>
<circle cx="1431.6" cy="1351.6" r="6.9"/>
<circle cx="1439.3" cy="1349.1" r="6.9"/>
<circle cx="1446.9" cy="1346.4" r="6.9"/>
<circle cx="1454.6" cy="1343.7" r="6.9"/>
<circle cx="1462.3" cy="1341" r="6.9"/>
<circle cx="1470" cy="1338.4" r="6.9"/>
<circle cx="1477.6" cy="1336" r="6.9"/>
<circle cx="1485.3" cy="1333.7" r="6.9"/>
<circle cx="1493" cy="1331.4" r="6.9"/>
<circle cx="1500.6" cy="1329.2" r="6.9"/>
<circle cx="1508.3" cy="1327" r="6.9"/>
<circle cx="1516" cy="1324.9" r="6.9"/>
<circle cx="1523.7" cy="1322.7" r="6.9"/>
<circle cx="1531.3" cy="1320.6" r="6.9"/>
<circle cx="1539" cy="1318.6" r="6.9"/>
<circle cx="1546.7" cy="1316.5" r="6.9"/>
<circle cx="1554.3" cy="1314.5" r="6.9"/>
<circle cx="1562" cy="1312.5" r="6.9"/>
<circle cx="1569.7" cy="1310.5" r="6.9"/>
<circle cx="1577.4" cy="1308.6" r="6.9"/>
<circle cx="1585" cy="1306.7" r="6.9"/>
<circle cx="1592.7" cy="1304.8" r="6.9"/>
<circle cx="1600.4" cy="1302.9" r="6.9"/>
<circle cx="1608" cy="1301.1" r="6.9"/>
<circle cx="1615.7" cy="1299.2" r="6.9"/>
<circle cx="1623.4" cy="1297.4" r="6.9"/>
<circle cx="1631" cy="1295.5" r="6.9"/>
<circle cx="1638.7" cy="1293.6" r="6.9"/>
<circle cx="1646.4" cy="1291.7" r="6.9"/>
<circle cx="1654.1" cy="1289.9" r="6.9"/>
<circle cx="1661.7" cy="1288" r="6.9"/>
<circle cx="1669.4" cy="1286.1" r="6.9"/>
<circle cx="1677.1" cy="1284.2" r="6.9"/>
<circle cx="1684.7" cy="1282.4" r="6.9"/>
<circle cx="1692.4" cy="1280.6" r="6.9"/>
<circle cx="1700.1" cy="1278.8" r="6.9"/>
<circle cx="1707.8" cy="1277" r="6.9"/>
<circle cx="1715.4" cy="1275.3" r="6.9"/>
<circle cx="1723.1" cy="1273.6" r="6.9"/>
<circle cx="1730.8" cy="1271.9" r="6.9"/>
<circle cx="1738.4" cy="1270.2" r="6.9"/>
<circle cx="1746.1" cy="1268.6" r="6.9"/>
<circle cx="1753.8" cy="1267" r="6.9"/>
<circle cx="1761.5" cy="1265.3" r="6.9"/>
<circle cx="1769.1" cy="1263.7" r="6.9"/>
<circle cx="1776.8" cy="1262.1" r="6.9"/>
<circle cx="1784.5" cy="1260.5" r="6.9"/>
<circle cx="1792.1" cy="1259.4" r="6.9"/>
<circle cx="1799.8" cy="1257.5" r="6.9"/>
<circle cx="1807.5" cy="1256" r="6.9"/>
<circle cx="1815.2" cy="1246" r="6.9"/>
<circle cx="1822.8" cy="1254.5" r="6.9"/>
<circle cx="1830.5" cy="1252.5" r="6.9"/>
<circle cx="1838.2" cy="1251.7" r="6.9"/>
<circle cx="1845.8" cy="1249.2" r="6.9"/>
<circle cx="1853.5" cy="1246.7" r="6.9"/>
<circle cx="1861.2" cy="1244.5" r="6.9"/>
<circle cx="1868.9" cy="1242.7" r="6.9"/>
<circle cx="1876.5" cy="1240.8" r="6.9"/>
<circle cx="1884.2" cy="1239" r="6.9"/>
<circle cx="1891.9" cy="1237.2" r="6.9"/>
<circle cx="1899.5" cy="1235.4" r="6.9"/>
<circle cx="1907.2" cy="1233.7" r="6.9"/>
<circle cx="1914.9" cy="1231.9" r="6.9"/>
<circle cx="1922.5" cy="1230.2" r="6.9"/>
<circle cx="1930.2" cy="1228.6" r="6.9"/>
<circle cx="1937.9" cy="1227" r="6.9"/>
<circle cx="1945.6" cy="1225.5" r="6.9"/>
<circle cx="1953.2" cy="1224" r="6.9"/>
<circle cx="1960.9" cy="1222.5" r="6.9"/>
<circle cx="1968.6" cy="1221.1" r="6.9"/>
<circle cx="1976.2" cy="1219.8" r="6.9"/>
<circle cx="1983.9" cy="1218.4" r="6.9"/>
<circle cx="1991.6" cy="1217.1" r="6.9"/>
<circle cx="1999.3" cy="1215.7" r="6.9"/>
<circle cx="2006.9" cy="1214.4" r="6.9"/>
<circle cx="2014.6" cy="1213" r="6.9"/>
</g>
<g fill="#0b9a3c">
<circle cx="1255.2" cy="1549.3" r="6.9"/>
<circle cx="1262.8" cy="1542.6" r="6.9"/>
<circle cx="1270.5" cy="1534.7" r="6.9"/>
<circle cx="1278.2" cy="1534.2" r="6.9"/>
<circle cx="1285.9" cy="1534" r="6.9"/>
<circle cx="1293.5" cy="1533.7" r="6.9"/>
<circle cx="1301.2" cy="1533.4" r="6.9"/>
<circle cx="1308.9" cy="1533.1" r="6.9"/>
<circle cx="1316.5" cy="1532.7" r="6.9"/>
<circle cx="1324.2" cy="1532" r="6.9"/>
<circle cx="1331.9" cy="1531.2" r="6.9"/>
<circle cx="1339.6" cy="1530.3" r="6.9"/>
<circle cx="1347.2" cy="1529.3" r="6.9"/>
<circle cx="1354.9" cy="1528.3" r="6.9"/>
<circle cx="1362.6" cy="1527.3" r="6.9"/>
<circle cx="1370.2" cy="1526.3" r="6.9"/>
<circle cx="1377.9" cy="1525.2" r="6.9"/>
<circle cx="1385.6" cy="1524.1" r="6.9"/>
<circle cx="1393.2" cy="1523.1" r="6.9"/>
<circle cx="1400.9" cy="1522" r="6.9"/>
<circle cx="1408.6" cy="1520.9" r="6.9"/>
<circle cx="1416.3" cy="1519.8" r="6.9"/>
<circle cx="1423.9" cy="1518.7" r="6.9"/>
<circle cx="1431.6" cy="1517.5" r="6.9"/>
<circle cx="1439.3" cy="1516.3" r="6.9"/>
<circle cx="1446.9" cy="1515.2" r="6.9"/>
<circle cx="1454.6" cy="1514.1" r="6.9"/>
<circle cx="1462.3" cy="1513" r="6.9"/>
<circle cx="1470" cy="1512" r="6.9"/>
<circle cx="1477.6" cy="1511" r="6.9"/>
<circle cx="1485.3" cy="1510.1" r="6.9"/>
<circle cx="1493" cy="1509.2" r="6.9"/>
<circle cx="1500.6" cy="1508.3" r="6.9"/>
<circle cx="1508.3" cy="1507.4" r="6.9"/>
<circle cx="1516" cy="1506.6" r="6.9"/>
<circle cx="1523.7" cy="1505.7" r="6.9"/>
<circle cx="1531.3" cy="1504.9" r="6.9"/>
<circle cx="1539" cy="1504.1" r="6.9"/>
<circle cx="1546.7" cy="1503.2" r="6.9"/>
<circle cx="1554.3" cy="1502.4" r="6.9"/>
<circle cx="1562" cy="1501.6" r="6.9"/>
<circle cx="1569.7" cy="1500.8" r="6.9"/>
<circle cx="1577.4" cy="1500" r="6.9"/>
<circle cx="1585" cy="1499.2" r="6.9"/>
<circle cx="1592.7" cy="1498.4" r="6.9"/>
<circle cx="1600.4" cy="1497.6" r="6.9"/>
<circle cx="1608" cy="1496.9" r="6.9"/>
<circle cx="1615.7" cy="1496.1" r="6.9"/>
<circle cx="1623.4" cy="1495.3" r="6.9"/>
<circle cx="1631" cy="1494.5" r="6.9"/>
<circle cx="1638.7" cy="1493.7" r="6.9"/>
<circle cx="1646.4" cy="1493" r="6.9"/>
<circle cx="1654.1" cy="1492.2" r="6.9"/>
<circle cx="1661.7" cy="1491.4" r="6.9"/>
<circle cx="1669.4" cy="1490.7" r="6.9"/>
<circle cx="1677.1" cy="1490" r="6.9"/>
<circle cx="1684.7" cy="1489.2" r="6.9"/>
<circle cx="1692.4" cy="1488.5" r="6.9"/>
<circle cx="1700.1" cy="1487.8" r="6.9"/>
<circle cx="1707.8" cy="1487.1" r="6.9"/>
<circle cx="1715.4" cy="1486.3" r="6.9"/>
<circle cx="1723.1" cy="1485.6" r="6.9"/>
<circle cx="1730.8" cy="1484.9" r="6.9"/>
<circle cx="1738.4" cy="1484.1" r="6.9"/>
<circle cx="1746.1" cy="1483.4" r="6.9"/>
<circle cx="1753.8" cy="1482.6" r="6.9"/>
<circle cx="1761.5" cy="1481.9" r="6.9"/>
<circle cx="1769.1" cy="1481.1" r="6.9"/>
<circle cx="1776.8" cy="1480.3" r="6.9"/>
<circle cx="1784.5" cy="1479.5" r="6.9"/>
<circle cx="1792.1" cy="1478.7" r="6.9"/>
<circle cx="1799.8" cy="1477.8" r="6.9"/>
<circle cx="1807.5" cy="1477" r="6.9"/>
<circle cx="1815.2" cy="1476.1" r="6.9"/>
<circle cx="1822.8" cy="1475.2" r="6.9"/>
<circle cx="1830.5" cy="1474.3" r="6.9"/>
<circle cx="1838.2" cy="1473.4" r="6.9"/>
<circle cx="1845.8" cy="1472.5" r="6.9"/>
<circle cx="1853.5" cy="1471.6" r="6.9"/>
<circle cx="1861.2" cy="1470.7" r="6.9"/>
<circle cx="1868.9" cy="1469.8" r="6.9"/>
<circle cx="1876.5" cy="1468.9" r="6.9"/>
<circle cx="1884.2" cy="1468" r="6.9"/>
<circle cx="1891.9" cy="1467.1" r="6.9"/>
<circle cx="1899.5" cy="1466.2" r="6.9"/>
<circle cx="1907.2" cy="1465.3" r="6.9"/>
<circle cx="1914.9" cy="1464.5" r="6.9"/>
<circle cx="1922.5" cy="1463.6" r="6.9"/>
<circle cx="1930.2" cy="1462.8" r="6.9"/>
<circle cx="1937.9" cy="1462" r="6.9"/>
<circle cx="1945.6" cy="1461.2" r="6.9"/>
<circle cx="1953.2" cy="1460.5" r="6.9"/>
<circle cx="1960.9" cy="1459.8" r="6.9"/>
<circle cx="1968.6" cy="1459.2" r="6.9"/>
<circle cx="1976.2" cy="1458.6" r="6.9"/>
<circle cx="1983.9" cy="1458" r="6.9"/>
<circle cx="1991.6" cy="1457.4" r="6.9"/>
<circle cx="1999.3" cy="1456.8" r="6.9"/>
<circle cx="2006.9" cy="1456.1" r="6.9"/>
<circle cx="2014.6" cy="1455.5" r="6.9"/>
</g>
<text font-size="39" text-anchor="middle" transform="translate(1247.5 1652.6) scale(0.98 1.035)">0</text>
<text font-size="39" text-anchor="middle" transform="translate(1324.2 1652.6) scale(0.98 1.035)">10</text>
<text font-size="39" text-anchor="middle" transform="translate(1400.9 1652.6) scale(0.98 1.035)">20</text>
<text font-size="39" text-anchor="middle" transform="translate(1477.6 1652.6) scale(0.98 1.035)">30</text>
<text font-size="39" text-anchor="middle" transform="translate(1554.3 1652.6) scale(0.98 1.035)">40</text>
<text font-size="39" text-anchor="middle" transform="translate(1631 1652.6) scale(0.98 1.035)">50</text>
<text font-size="39" text-anchor="middle" transform="translate(1707.8 1652.6) scale(0.98 1.035)">60</text>
<text font-size="39" text-anchor="middle" transform="translate(1784.5 1652.6) scale(0.98 1.035)">70</text>
<text font-size="39" text-anchor="middle" transform="translate(1861.2 1652.6) scale(0.98 1.035)">80</text>
<text font-size="39" text-anchor="middle" transform="translate(1937.9 1652.6) scale(0.98 1.035)">90</text>
<text font-size="39" text-anchor="middle" transform="translate(2014.6 1652.6) scale(0.98 1.035)">100</text>
<text font-size="39" text-anchor="end" transform="translate(1234 1618.3) scale(0.98 1.035)">0</text>
<text font-size="39" text-anchor="end" transform="translate(1234 1554.6) scale(0.98 1.035)">0.1</text>
<text font-size="39" text-anchor="end" transform="translate(1234 1490.9) scale(0.98 1.035)">0.2</text>
<text font-size="39" text-anchor="end" transform="translate(1234 1427.3) scale(0.98 1.035)">0.3</text>
<text font-size="39" text-anchor="end" transform="translate(1234 1363.6) scale(0.98 1.035)">0.4</text>
<text font-size="39" text-anchor="end" transform="translate(1234 1299.9) scale(0.98 1.035)">0.5</text>
<text font-size="39" text-anchor="end" transform="translate(1234 1236.2) scale(0.98 1.035)">0.6</text>
<text font-size="39" text-anchor="end" transform="translate(1234 1172.5) scale(0.98 1.035)">0.7</text>
<text font-size="39" text-anchor="end" transform="translate(1234 1108.9) scale(0.98 1.035)">0.8</text>
<text font-size="39" text-anchor="end" transform="translate(1234 1045.2) scale(0.98 1.035)">0.9</text>
<text font-size="39" text-anchor="end" transform="translate(1234 981.5) scale(0.98 1.035)">1</text>
<text x="1631.5" y="1702" font-size="46" text-anchor="middle">Cycle Number</text>
<text x="1163.7" y="1287" font-size="46" text-anchor="middle" transform="rotate(-90 1163.7 1287)">Polarization (V)</text>
<circle cx="1326.5" cy="1074.4" r="11.5" fill="#0000ff"/>
<text x="1375" y="1086.2" font-size="35" text-anchor="start">HG</text>
<circle cx="1326.5" cy="1120.4" r="11.5" fill="#000000"/>
<text x="1375" y="1132" font-size="35" text-anchor="start">DPM</text>
<circle cx="1326.5" cy="1166.4" r="11.5" fill="#ff0000"/>
<text x="1375" y="1177.9" font-size="35" text-anchor="start">AG</text>
<circle cx="1326.5" cy="1212.4" r="11.5" fill="#0b9a3c"/>
<text x="1375" y="1223.8" font-size="35" text-anchor="start">JM</text>
</g>
</svg>
</body>
</html>
